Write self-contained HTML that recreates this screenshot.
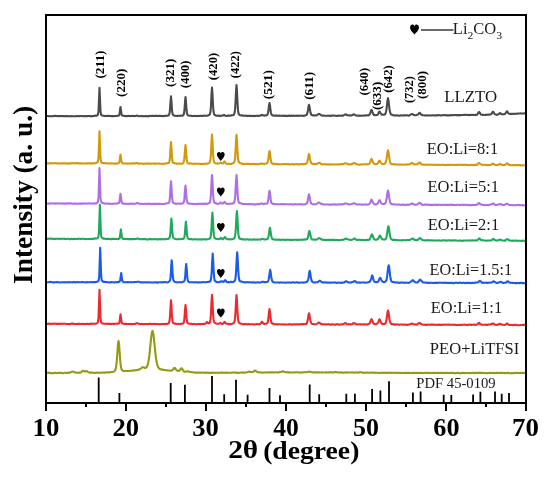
<!DOCTYPE html>
<html><head><meta charset="utf-8"><style>html,body{margin:0;padding:0;background:#fff;}svg{display:block;}
text{font-family:"Liberation Serif","Times New Roman",serif;}</style></head><body>
<svg width="550" height="478" viewBox="0 0 550 478">
<rect width="550" height="478" fill="#fff"/>
<path d="M46.0,116.21 L46.5,116.21 L47.0,116.14 L47.5,116.06 L48.0,116.05 L48.5,116.07 L49.0,116.22 L49.5,116.31 L50.0,116.18 L50.5,116.13 L51.0,116.23 L51.5,116.26 L52.0,116.17 L52.5,116.10 L53.0,116.17 L53.5,116.19 L54.0,116.06 L54.5,115.97 L55.0,115.90 L55.5,115.86 L56.0,115.91 L56.5,116.00 L57.0,116.05 L57.5,116.15 L58.0,116.20 L58.5,116.04 L59.0,115.88 L59.5,115.99 L60.0,116.15 L60.5,116.11 L61.0,116.00 L61.5,116.00 L62.0,116.01 L62.5,116.10 L63.0,116.20 L63.5,116.14 L64.0,116.17 L64.5,116.23 L65.0,116.15 L65.5,116.13 L66.0,116.18 L66.5,116.12 L67.0,116.05 L67.5,116.18 L68.0,116.23 L68.5,116.12 L69.0,116.18 L69.5,116.19 L70.0,116.21 L70.5,116.38 L71.0,116.28 L71.5,116.08 L72.0,116.14 L72.5,116.21 L73.0,116.20 L73.5,116.22 L74.0,116.22 L74.5,116.30 L75.0,116.30 L75.5,116.17 L76.0,116.12 L76.5,116.12 L77.0,116.08 L77.5,116.00 L78.0,116.02 L78.5,116.14 L79.0,116.29 L79.5,116.24 L80.0,116.03 L80.5,116.03 L81.0,116.07 L81.5,115.94 L82.0,115.98 L82.5,116.17 L83.0,116.30 L83.5,116.26 L84.0,116.12 L84.5,116.06 L85.0,116.16 L85.5,116.25 L86.0,116.14 L86.5,116.09 L87.0,116.13 L87.5,116.11 L88.0,116.03 L88.5,115.98 L89.0,116.02 L89.5,116.12 L90.0,116.23 L90.5,116.22 L91.0,116.15 L91.5,116.13 L92.0,116.12 L92.5,116.15 L93.0,116.12 L93.5,116.02 L94.0,115.91 L94.5,115.85 L95.0,115.67 L95.5,115.56 L96.0,115.61 L96.5,115.58 L97.0,115.58 L97.5,115.35 L98.0,114.35 L98.5,110.93 L99.0,99.65 L99.5,87.88 L100.0,99.63 L100.5,111.03 L101.0,114.44 L101.5,115.18 L102.0,115.40 L102.5,115.61 L103.0,115.73 L103.5,115.77 L104.0,115.84 L104.5,115.93 L105.0,116.05 L105.5,116.08 L106.0,116.01 L106.5,115.97 L107.0,115.89 L107.5,115.78 L108.0,115.85 L108.5,115.93 L109.0,115.90 L109.5,115.95 L110.0,115.97 L110.5,116.01 L111.0,116.06 L111.5,116.11 L112.0,116.04 L112.5,115.98 L113.0,116.19 L113.5,116.27 L114.0,116.11 L114.5,116.01 L115.0,115.96 L115.5,115.98 L116.0,116.05 L116.5,116.00 L117.0,115.90 L117.5,115.81 L118.0,115.68 L118.5,115.63 L119.0,115.46 L119.5,114.21 L120.0,110.49 L120.5,107.01 L121.0,110.31 L121.5,114.01 L122.0,115.33 L122.5,115.68 L123.0,115.80 L123.5,115.80 L124.0,115.77 L124.5,115.93 L125.0,116.11 L125.5,115.99 L126.0,115.91 L126.5,116.10 L127.0,116.14 L127.5,115.97 L128.0,115.93 L128.5,115.90 L129.0,115.89 L129.5,116.05 L130.0,116.11 L130.5,116.04 L131.0,116.02 L131.5,116.05 L132.0,116.03 L132.5,115.97 L133.0,115.88 L133.5,115.95 L134.0,116.11 L134.5,116.09 L135.0,116.05 L135.5,116.01 L136.0,115.85 L136.5,115.64 L137.0,115.50 L137.5,115.67 L138.0,115.89 L138.5,116.08 L139.0,116.20 L139.5,116.21 L140.0,116.10 L140.5,115.95 L141.0,115.94 L141.5,116.14 L142.0,116.21 L142.5,116.13 L143.0,116.15 L143.5,116.22 L144.0,116.24 L144.5,116.18 L145.0,116.14 L145.5,116.13 L146.0,116.05 L146.5,116.11 L147.0,116.20 L147.5,116.27 L148.0,116.38 L148.5,116.25 L149.0,115.93 L149.5,115.86 L150.0,116.00 L150.5,115.99 L151.0,116.04 L151.5,116.05 L152.0,115.81 L152.5,115.76 L153.0,115.97 L153.5,116.05 L154.0,116.02 L154.5,115.99 L155.0,115.87 L155.5,115.83 L156.0,115.89 L156.5,115.84 L157.0,115.83 L157.5,115.99 L158.0,116.07 L158.5,116.01 L159.0,115.90 L159.5,115.84 L160.0,115.83 L160.5,115.87 L161.0,115.93 L161.5,115.94 L162.0,116.00 L162.5,116.14 L163.0,116.13 L163.5,115.97 L164.0,115.96 L164.5,115.97 L165.0,115.83 L165.5,115.71 L166.0,115.77 L166.5,115.86 L167.0,115.78 L167.5,115.65 L168.0,115.57 L168.5,115.43 L169.0,114.87 L169.5,113.47 L170.0,109.71 L170.5,101.95 L171.0,96.25 L171.5,102.20 L172.0,110.11 L172.5,113.73 L173.0,114.73 L173.5,115.20 L174.0,115.58 L174.5,115.70 L175.0,115.71 L175.5,115.76 L176.0,115.84 L176.5,115.93 L177.0,115.94 L177.5,115.84 L178.0,115.78 L178.5,115.81 L179.0,115.85 L179.5,115.84 L180.0,115.72 L180.5,115.70 L181.0,115.66 L181.5,115.63 L182.0,115.78 L182.5,115.68 L183.0,115.31 L183.5,114.87 L184.0,113.40 L184.5,109.33 L185.0,102.07 L185.5,97.00 L186.0,102.13 L186.5,109.45 L187.0,113.37 L187.5,114.82 L188.0,115.38 L188.5,115.56 L189.0,115.69 L189.5,115.82 L190.0,115.75 L190.5,115.63 L191.0,115.70 L191.5,115.97 L192.0,116.10 L192.5,116.06 L193.0,116.02 L193.5,115.96 L194.0,115.93 L194.5,115.89 L195.0,115.89 L195.5,116.00 L196.0,116.11 L196.5,116.06 L197.0,115.92 L197.5,115.83 L198.0,115.91 L198.5,116.08 L199.0,116.06 L199.5,115.94 L200.0,115.83 L200.5,115.77 L201.0,115.89 L201.5,115.97 L202.0,115.89 L202.5,115.83 L203.0,115.84 L203.5,115.78 L204.0,115.67 L204.5,115.67 L205.0,115.75 L205.5,115.78 L206.0,115.74 L206.5,115.80 L207.0,115.81 L207.5,115.58 L208.0,115.39 L208.5,115.29 L209.0,115.03 L209.5,114.61 L210.0,113.94 L210.5,111.62 L211.0,105.21 L211.5,94.52 L212.0,87.67 L212.5,94.52 L213.0,104.97 L213.5,111.28 L214.0,113.86 L214.5,114.70 L215.0,115.20 L215.5,115.51 L216.0,115.57 L216.5,115.71 L217.0,115.83 L217.5,115.72 L218.0,115.56 L218.5,115.57 L219.0,115.77 L219.5,115.98 L220.0,115.92 L220.5,115.70 L221.0,115.63 L221.5,115.71 L222.0,115.75 L222.5,115.68 L223.0,115.47 L223.5,115.11 L224.0,114.83 L224.5,115.07 L225.0,115.46 L225.5,115.69 L226.0,115.90 L226.5,116.03 L227.0,115.95 L227.5,115.73 L228.0,115.62 L228.5,115.61 L229.0,115.49 L229.5,115.51 L230.0,115.74 L230.5,115.75 L231.0,115.52 L231.5,115.32 L232.0,115.26 L232.5,115.24 L233.0,115.26 L233.5,115.11 L234.0,114.44 L234.5,113.06 L235.0,109.90 L235.5,102.81 L236.0,91.79 L236.5,85.02 L237.0,91.76 L237.5,102.83 L238.0,110.18 L238.5,113.42 L239.0,114.48 L239.5,114.87 L240.0,115.14 L240.5,115.29 L241.0,115.36 L241.5,115.40 L242.0,115.37 L242.5,115.47 L243.0,115.69 L243.5,115.76 L244.0,115.82 L244.5,115.80 L245.0,115.62 L245.5,115.64 L246.0,115.82 L246.5,115.86 L247.0,115.87 L247.5,115.95 L248.0,115.87 L248.5,115.70 L249.0,115.75 L249.5,115.93 L250.0,115.86 L250.5,115.77 L251.0,115.95 L251.5,116.08 L252.0,116.03 L252.5,115.90 L253.0,115.77 L253.5,115.88 L254.0,116.08 L254.5,116.08 L255.0,116.00 L255.5,115.90 L256.0,115.77 L256.5,115.69 L257.0,115.79 L257.5,115.88 L258.0,115.83 L258.5,115.91 L259.0,115.87 L259.5,115.70 L260.0,115.64 L260.5,115.60 L261.0,115.42 L261.5,115.09 L262.0,114.89 L262.5,115.04 L263.0,115.23 L263.5,115.41 L264.0,115.64 L264.5,115.67 L265.0,115.52 L265.5,115.47 L266.0,115.37 L266.5,115.27 L267.0,115.11 L267.5,114.54 L268.0,113.01 L268.5,109.81 L269.0,105.46 L269.5,102.97 L270.0,105.41 L270.5,109.81 L271.0,112.97 L271.5,114.53 L272.0,115.07 L272.5,115.24 L273.0,115.44 L273.5,115.64 L274.0,115.71 L274.5,115.66 L275.0,115.60 L275.5,115.62 L276.0,115.71 L276.5,115.63 L277.0,115.57 L277.5,115.78 L278.0,115.87 L278.5,115.68 L279.0,115.62 L279.5,115.66 L280.0,115.72 L280.5,115.80 L281.0,115.76 L281.5,115.78 L282.0,115.85 L282.5,115.84 L283.0,115.83 L283.5,115.73 L284.0,115.60 L284.5,115.72 L285.0,115.96 L285.5,115.95 L286.0,115.88 L286.5,115.89 L287.0,115.89 L287.5,115.99 L288.0,116.02 L288.5,115.78 L289.0,115.60 L289.5,115.62 L290.0,115.72 L290.5,115.92 L291.0,115.94 L291.5,115.74 L292.0,115.66 L292.5,115.83 L293.0,115.84 L293.5,115.67 L294.0,115.71 L294.5,115.83 L295.0,115.85 L295.5,115.78 L296.0,115.69 L296.5,115.63 L297.0,115.74 L297.5,115.98 L298.0,115.97 L298.5,115.79 L299.0,115.62 L299.5,115.56 L300.0,115.67 L300.5,115.78 L301.0,115.78 L301.5,115.71 L302.0,115.64 L302.5,115.68 L303.0,115.78 L303.5,115.92 L304.0,115.91 L304.5,115.65 L305.0,115.45 L305.5,115.37 L306.0,115.19 L306.5,114.88 L307.0,114.19 L307.5,112.66 L308.0,109.99 L308.5,106.59 L309.0,104.75 L309.5,106.51 L310.0,109.84 L310.5,112.57 L311.0,114.16 L311.5,114.89 L312.0,115.24 L312.5,115.33 L313.0,115.33 L313.5,115.39 L314.0,115.39 L314.5,115.43 L315.0,115.41 L315.5,115.33 L316.0,115.41 L316.5,115.39 L317.0,115.13 L317.5,114.78 L318.0,114.36 L318.5,113.98 L319.0,113.86 L319.5,114.06 L320.0,114.40 L320.5,114.76 L321.0,115.16 L321.5,115.44 L322.0,115.52 L322.5,115.60 L323.0,115.62 L323.5,115.57 L324.0,115.68 L324.5,115.78 L325.0,115.79 L325.5,115.75 L326.0,115.68 L326.5,115.71 L327.0,115.82 L327.5,115.83 L328.0,115.71 L328.5,115.63 L329.0,115.79 L329.5,115.95 L330.0,115.93 L330.5,115.74 L331.0,115.65 L331.5,115.75 L332.0,115.65 L332.5,115.49 L333.0,115.57 L333.5,115.54 L334.0,115.49 L334.5,115.67 L335.0,115.81 L335.5,115.77 L336.0,115.83 L336.5,116.00 L337.0,115.97 L337.5,115.78 L338.0,115.62 L338.5,115.53 L339.0,115.59 L339.5,115.73 L340.0,115.76 L340.5,115.76 L341.0,115.74 L341.5,115.62 L342.0,115.61 L342.5,115.67 L343.0,115.63 L343.5,115.49 L344.0,115.19 L344.5,114.85 L345.0,114.57 L345.5,114.33 L346.0,114.40 L346.5,114.80 L347.0,115.12 L347.5,115.23 L348.0,115.25 L348.5,115.36 L349.0,115.43 L349.5,115.33 L350.0,115.27 L350.5,115.44 L351.0,115.60 L351.5,115.47 L352.0,115.23 L352.5,115.06 L353.0,114.73 L353.5,114.31 L354.0,114.33 L354.5,114.64 L355.0,114.98 L355.5,115.32 L356.0,115.49 L356.5,115.52 L357.0,115.59 L357.5,115.61 L358.0,115.55 L358.5,115.60 L359.0,115.78 L359.5,115.83 L360.0,115.68 L360.5,115.59 L361.0,115.68 L361.5,115.74 L362.0,115.73 L362.5,115.68 L363.0,115.54 L363.5,115.49 L364.0,115.57 L364.5,115.67 L365.0,115.60 L365.5,115.37 L366.0,115.34 L366.5,115.42 L367.0,115.31 L367.5,115.25 L368.0,115.38 L368.5,115.34 L369.0,115.03 L369.5,114.52 L370.0,113.65 L370.5,112.29 L371.0,110.75 L371.5,109.87 L372.0,110.55 L372.5,112.11 L373.0,113.50 L373.5,114.46 L374.0,114.89 L374.5,115.00 L375.0,115.11 L375.5,115.21 L376.0,115.22 L376.5,115.07 L377.0,114.94 L377.5,114.83 L378.0,114.36 L378.5,113.31 L379.0,112.04 L379.5,111.50 L380.0,112.06 L380.5,112.94 L381.0,113.77 L381.5,114.48 L382.0,114.82 L382.5,114.77 L383.0,114.64 L383.5,114.68 L384.0,114.73 L384.5,114.54 L385.0,114.19 L385.5,113.52 L386.0,111.96 L386.5,109.09 L387.0,104.90 L387.5,100.38 L388.0,98.19 L388.5,100.40 L389.0,104.99 L389.5,109.11 L390.0,111.83 L390.5,113.42 L391.0,114.28 L391.5,114.64 L392.0,114.68 L392.5,114.79 L393.0,115.14 L393.5,115.46 L394.0,115.45 L394.5,115.34 L395.0,115.48 L395.5,115.57 L396.0,115.42 L396.5,115.38 L397.0,115.52 L397.5,115.55 L398.0,115.48 L398.5,115.50 L399.0,115.69 L399.5,115.74 L400.0,115.62 L400.5,115.44 L401.0,115.30 L401.5,115.40 L402.0,115.48 L402.5,115.52 L403.0,115.53 L403.5,115.36 L404.0,115.27 L404.5,115.36 L405.0,115.37 L405.5,115.34 L406.0,115.34 L406.5,115.25 L407.0,115.23 L407.5,115.44 L408.0,115.55 L408.5,115.61 L409.0,115.61 L409.5,115.29 L410.0,114.91 L410.5,114.66 L411.0,114.40 L411.5,114.17 L412.0,114.01 L412.5,114.09 L413.0,114.43 L413.5,114.75 L414.0,115.04 L414.5,115.20 L415.0,115.22 L415.5,115.22 L416.0,115.15 L416.5,115.00 L417.0,114.83 L417.5,114.76 L418.0,114.57 L418.5,113.99 L419.0,113.23 L419.5,112.75 L420.0,112.99 L420.5,113.74 L421.0,114.35 L421.5,114.74 L422.0,115.02 L422.5,115.17 L423.0,115.23 L423.5,115.23 L424.0,115.20 L424.5,115.38 L425.0,115.58 L425.5,115.48 L426.0,115.38 L426.5,115.47 L427.0,115.44 L427.5,115.31 L428.0,115.37 L428.5,115.50 L429.0,115.48 L429.5,115.51 L430.0,115.53 L430.5,115.42 L431.0,115.35 L431.5,115.43 L432.0,115.43 L432.5,115.24 L433.0,115.20 L433.5,115.34 L434.0,115.47 L434.5,115.57 L435.0,115.49 L435.5,115.34 L436.0,115.38 L436.5,115.37 L437.0,115.34 L437.5,115.36 L438.0,115.21 L438.5,115.11 L439.0,115.16 L439.5,115.18 L440.0,115.26 L440.5,115.40 L441.0,115.51 L441.5,115.54 L442.0,115.34 L442.5,115.14 L443.0,115.14 L443.5,115.14 L444.0,115.18 L444.5,115.28 L445.0,115.17 L445.5,115.11 L446.0,115.27 L446.5,115.34 L447.0,115.33 L447.5,115.35 L448.0,115.35 L448.5,115.38 L449.0,115.42 L449.5,115.39 L450.0,115.34 L450.5,115.24 L451.0,115.10 L451.5,115.13 L452.0,115.20 L452.5,115.16 L453.0,115.17 L453.5,115.31 L454.0,115.24 L454.5,114.99 L455.0,114.93 L455.5,115.06 L456.0,115.11 L456.5,115.09 L457.0,115.10 L457.5,115.12 L458.0,115.13 L458.5,115.09 L459.0,115.14 L459.5,115.36 L460.0,115.39 L460.5,115.12 L461.0,114.96 L461.5,115.03 L462.0,115.07 L462.5,114.98 L463.0,114.97 L463.5,114.99 L464.0,114.91 L464.5,114.88 L465.0,114.84 L465.5,114.73 L466.0,114.76 L466.5,114.92 L467.0,115.01 L467.5,114.91 L468.0,114.79 L468.5,114.90 L469.0,115.08 L469.5,115.08 L470.0,114.95 L470.5,114.90 L471.0,114.95 L471.5,114.86 L472.0,114.74 L472.5,114.86 L473.0,115.03 L473.5,115.06 L474.0,114.99 L474.5,114.93 L475.0,114.88 L475.5,114.79 L476.0,114.85 L476.5,114.98 L477.0,114.70 L477.5,114.11 L478.0,113.36 L478.5,112.50 L479.0,111.98 L479.5,112.31 L480.0,113.13 L480.5,113.96 L481.0,114.46 L481.5,114.70 L482.0,114.84 L482.5,114.85 L483.0,114.77 L483.5,114.71 L484.0,114.88 L484.5,115.04 L485.0,114.94 L485.5,114.80 L486.0,114.85 L486.5,114.86 L487.0,114.70 L487.5,114.66 L488.0,114.76 L488.5,114.74 L489.0,114.65 L489.5,114.61 L490.0,114.56 L490.5,114.48 L491.0,114.25 L491.5,113.80 L492.0,113.16 L492.5,112.24 L493.0,111.60 L493.5,112.15 L494.0,113.15 L494.5,113.81 L495.0,114.16 L495.5,114.36 L496.0,114.64 L496.5,114.88 L497.0,114.79 L497.5,114.57 L498.0,114.44 L498.5,114.23 L499.0,113.90 L499.5,113.41 L500.0,113.04 L500.5,113.32 L501.0,113.86 L501.5,114.22 L502.0,114.29 L502.5,114.23 L503.0,114.30 L503.5,114.33 L504.0,114.26 L504.5,114.13 L505.0,113.78 L505.5,113.30 L506.0,112.77 L506.5,111.88 L507.0,111.25 L507.5,111.78 L508.0,112.74 L508.5,113.33 L509.0,113.62 L509.5,113.87 L510.0,113.95 L510.5,113.90 L511.0,113.93 L511.5,113.84 L512.0,113.81 L512.5,113.94 L513.0,113.84 L513.5,113.67 L514.0,113.75 L514.5,113.93 L515.0,113.91 L515.5,113.78 L516.0,113.77 L516.5,113.75 L517.0,113.65 L517.5,113.64 L518.0,113.60 L518.5,113.50 L519.0,113.49 L519.5,113.52 L520.0,113.49 L520.5,113.40 L521.0,113.44 L521.5,113.53 L522.0,113.53 L522.5,113.54 L523.0,113.55 L523.5,113.57 L524.0,113.52 L524.5,113.35 L525.0,113.27 L525.5,113.32 L526.0,113.37" fill="none" stroke="#4a4a4a" stroke-width="2.1" stroke-linejoin="round"/>
<path d="M46.0,163.37 L46.5,163.13 L47.0,163.13 L47.5,163.36 L48.0,163.46 L48.5,163.42 L49.0,163.36 L49.5,163.39 L50.0,163.40 L50.5,163.39 L51.0,163.30 L51.5,163.17 L52.0,163.21 L52.5,163.30 L53.0,163.36 L53.5,163.30 L54.0,163.24 L54.5,163.27 L55.0,163.21 L55.5,163.11 L56.0,163.12 L56.5,163.28 L57.0,163.44 L57.5,163.47 L58.0,163.44 L58.5,163.45 L59.0,163.40 L59.5,163.37 L60.0,163.46 L60.5,163.47 L61.0,163.36 L61.5,163.30 L62.0,163.33 L62.5,163.31 L63.0,163.33 L63.5,163.40 L64.0,163.40 L64.5,163.35 L65.0,163.33 L65.5,163.38 L66.0,163.41 L66.5,163.46 L67.0,163.58 L67.5,163.61 L68.0,163.63 L68.5,163.54 L69.0,163.34 L69.5,163.33 L70.0,163.42 L70.5,163.42 L71.0,163.38 L71.5,163.27 L72.0,163.18 L72.5,163.16 L73.0,163.17 L73.5,163.28 L74.0,163.31 L74.5,163.28 L75.0,163.36 L75.5,163.35 L76.0,163.18 L76.5,163.10 L77.0,163.10 L77.5,163.09 L78.0,163.29 L78.5,163.47 L79.0,163.42 L79.5,163.36 L80.0,163.32 L80.5,163.36 L81.0,163.40 L81.5,163.43 L82.0,163.57 L82.5,163.65 L83.0,163.54 L83.5,163.40 L84.0,163.36 L84.5,163.42 L85.0,163.48 L85.5,163.50 L86.0,163.56 L86.5,163.50 L87.0,163.30 L87.5,163.34 L88.0,163.48 L88.5,163.39 L89.0,163.31 L89.5,163.28 L90.0,163.26 L90.5,163.48 L91.0,163.73 L91.5,163.59 L92.0,163.29 L92.5,163.21 L93.0,163.33 L93.5,163.39 L94.0,163.26 L94.5,163.23 L95.0,163.35 L95.5,163.31 L96.0,163.06 L96.5,162.76 L97.0,162.51 L97.5,162.11 L98.0,161.24 L98.5,157.61 L99.0,144.67 L99.5,131.32 L100.0,144.96 L100.5,157.84 L101.0,161.47 L101.5,162.48 L102.0,162.91 L102.5,162.93 L103.0,162.99 L103.5,163.08 L104.0,163.19 L104.5,163.27 L105.0,163.13 L105.5,163.14 L106.0,163.31 L106.5,163.40 L107.0,163.46 L107.5,163.48 L108.0,163.51 L108.5,163.47 L109.0,163.32 L109.5,163.34 L110.0,163.42 L110.5,163.48 L111.0,163.48 L111.5,163.38 L112.0,163.43 L112.5,163.57 L113.0,163.55 L113.5,163.56 L114.0,163.80 L114.5,163.77 L115.0,163.48 L115.5,163.57 L116.0,163.79 L116.5,163.68 L117.0,163.49 L117.5,163.36 L118.0,163.25 L118.5,163.12 L119.0,162.85 L119.5,161.63 L120.0,157.91 L120.5,154.45 L121.0,157.79 L121.5,161.50 L122.0,162.79 L122.5,163.21 L123.0,163.47 L123.5,163.54 L124.0,163.56 L124.5,163.56 L125.0,163.54 L125.5,163.51 L126.0,163.55 L126.5,163.56 L127.0,163.56 L127.5,163.66 L128.0,163.61 L128.5,163.48 L129.0,163.46 L129.5,163.50 L130.0,163.53 L130.5,163.59 L131.0,163.63 L131.5,163.45 L132.0,163.28 L132.5,163.29 L133.0,163.34 L133.5,163.53 L134.0,163.71 L134.5,163.58 L135.0,163.31 L135.5,163.27 L136.0,163.30 L136.5,163.06 L137.0,162.91 L137.5,163.18 L138.0,163.52 L138.5,163.61 L139.0,163.57 L139.5,163.63 L140.0,163.64 L140.5,163.53 L141.0,163.49 L141.5,163.53 L142.0,163.54 L142.5,163.59 L143.0,163.78 L143.5,163.86 L144.0,163.68 L144.5,163.59 L145.0,163.66 L145.5,163.76 L146.0,163.77 L146.5,163.63 L147.0,163.48 L147.5,163.41 L148.0,163.52 L148.5,163.69 L149.0,163.66 L149.5,163.56 L150.0,163.59 L150.5,163.70 L151.0,163.71 L151.5,163.64 L152.0,163.54 L152.5,163.43 L153.0,163.56 L153.5,163.69 L154.0,163.53 L154.5,163.56 L155.0,163.68 L155.5,163.63 L156.0,163.59 L156.5,163.65 L157.0,163.69 L157.5,163.59 L158.0,163.49 L158.5,163.54 L159.0,163.57 L159.5,163.60 L160.0,163.72 L160.5,163.81 L161.0,163.78 L161.5,163.72 L162.0,163.81 L162.5,163.90 L163.0,163.91 L163.5,163.85 L164.0,163.69 L164.5,163.64 L165.0,163.61 L165.5,163.49 L166.0,163.47 L166.5,163.43 L167.0,163.28 L167.5,163.09 L168.0,163.02 L168.5,162.97 L169.0,162.66 L169.5,161.33 L170.0,157.02 L170.5,148.33 L171.0,141.98 L171.5,148.38 L172.0,157.02 L172.5,161.33 L173.0,162.73 L173.5,162.98 L174.0,163.00 L174.5,163.10 L175.0,163.17 L175.5,163.36 L176.0,163.62 L176.5,163.58 L177.0,163.48 L177.5,163.66 L178.0,163.76 L178.5,163.61 L179.0,163.51 L179.5,163.55 L180.0,163.63 L180.5,163.71 L181.0,163.75 L181.5,163.72 L182.0,163.65 L182.5,163.50 L183.0,163.11 L183.5,162.48 L184.0,161.23 L184.5,157.48 L185.0,150.23 L185.5,145.16 L186.0,150.18 L186.5,157.45 L187.0,161.46 L187.5,162.79 L188.0,163.19 L188.5,163.46 L189.0,163.61 L189.5,163.49 L190.0,163.32 L190.5,163.41 L191.0,163.54 L191.5,163.58 L192.0,163.75 L192.5,163.84 L193.0,163.70 L193.5,163.72 L194.0,163.90 L194.5,163.77 L195.0,163.64 L195.5,163.77 L196.0,163.81 L196.5,163.79 L197.0,163.82 L197.5,163.75 L198.0,163.69 L198.5,163.82 L199.0,163.86 L199.5,163.80 L200.0,163.80 L200.5,163.96 L201.0,164.05 L201.5,163.94 L202.0,163.89 L202.5,163.84 L203.0,163.79 L203.5,163.88 L204.0,163.95 L204.5,163.93 L205.0,163.78 L205.5,163.61 L206.0,163.59 L206.5,163.66 L207.0,163.71 L207.5,163.67 L208.0,163.53 L208.5,163.42 L209.0,163.19 L209.5,162.59 L210.0,161.48 L210.5,158.88 L211.0,152.53 L211.5,141.77 L212.0,134.67 L212.5,141.83 L213.0,152.88 L213.5,159.42 L214.0,161.88 L214.5,162.61 L215.0,162.95 L215.5,163.22 L216.0,163.36 L216.5,163.42 L217.0,163.59 L217.5,163.66 L218.0,163.53 L218.5,163.49 L219.0,163.42 L219.5,163.24 L220.0,162.91 L220.5,162.65 L221.0,162.82 L221.5,163.17 L222.0,163.49 L222.5,163.56 L223.0,163.40 L223.5,162.78 L224.0,161.80 L224.5,161.44 L225.0,162.18 L225.5,163.08 L226.0,163.54 L226.5,163.61 L227.0,163.67 L227.5,163.92 L228.0,164.03 L228.5,163.85 L229.0,163.65 L229.5,163.61 L230.0,163.87 L230.5,164.05 L231.0,163.93 L231.5,163.78 L232.0,163.57 L232.5,163.38 L233.0,163.24 L233.5,162.88 L234.0,162.42 L234.5,161.48 L235.0,158.60 L235.5,151.82 L236.0,141.37 L236.5,134.89 L237.0,141.18 L237.5,151.63 L238.0,158.35 L238.5,161.20 L239.0,162.29 L239.5,162.77 L240.0,162.97 L240.5,163.11 L241.0,163.33 L241.5,163.61 L242.0,163.88 L242.5,163.93 L243.0,163.73 L243.5,163.75 L244.0,163.93 L244.5,163.91 L245.0,163.96 L245.5,164.08 L246.0,163.95 L246.5,163.76 L247.0,163.80 L247.5,163.97 L248.0,163.97 L248.5,163.82 L249.0,163.86 L249.5,164.05 L250.0,164.08 L250.5,164.02 L251.0,164.09 L251.5,164.03 L252.0,163.87 L252.5,163.94 L253.0,164.04 L253.5,163.90 L254.0,163.78 L254.5,163.95 L255.0,164.20 L255.5,164.14 L256.0,164.04 L256.5,164.15 L257.0,164.12 L257.5,164.15 L258.0,164.27 L258.5,164.21 L259.0,164.03 L259.5,163.92 L260.0,163.92 L260.5,163.68 L261.0,163.49 L261.5,163.58 L262.0,163.55 L262.5,163.54 L263.0,163.68 L263.5,163.97 L264.0,164.18 L264.5,164.12 L265.0,163.86 L265.5,163.66 L266.0,163.51 L266.5,163.24 L267.0,163.01 L267.5,162.53 L268.0,160.94 L268.5,157.72 L269.0,153.39 L269.5,151.02 L270.0,153.55 L270.5,157.94 L271.0,161.15 L271.5,162.65 L272.0,163.30 L272.5,163.62 L273.0,163.66 L273.5,163.69 L274.0,163.77 L274.5,164.00 L275.0,164.14 L275.5,164.06 L276.0,164.00 L276.5,163.94 L277.0,163.87 L277.5,164.00 L278.0,164.33 L278.5,164.48 L279.0,164.28 L279.5,164.14 L280.0,164.18 L280.5,164.21 L281.0,164.25 L281.5,164.26 L282.0,164.25 L282.5,164.23 L283.0,164.14 L283.5,164.03 L284.0,163.97 L284.5,163.99 L285.0,164.02 L285.5,164.07 L286.0,164.11 L286.5,164.19 L287.0,164.19 L287.5,164.05 L288.0,164.01 L288.5,164.12 L289.0,164.34 L289.5,164.48 L290.0,164.39 L290.5,164.31 L291.0,164.29 L291.5,164.23 L292.0,164.28 L292.5,164.10 L293.0,164.05 L293.5,164.45 L294.0,164.49 L294.5,164.22 L295.0,164.19 L295.5,164.23 L296.0,164.16 L296.5,164.05 L297.0,164.11 L297.5,164.26 L298.0,164.34 L298.5,164.37 L299.0,164.42 L299.5,164.44 L300.0,164.28 L300.5,164.11 L301.0,163.96 L301.5,164.04 L302.0,164.21 L302.5,164.17 L303.0,164.16 L303.5,164.10 L304.0,163.97 L304.5,163.94 L305.0,163.90 L305.5,163.87 L306.0,163.85 L306.5,163.56 L307.0,162.74 L307.5,161.23 L308.0,158.69 L308.5,155.50 L309.0,153.95 L309.5,155.82 L310.0,158.94 L310.5,161.37 L311.0,162.75 L311.5,163.34 L312.0,163.58 L312.5,163.73 L313.0,163.87 L313.5,164.02 L314.0,164.11 L314.5,164.09 L315.0,164.00 L315.5,164.03 L316.0,164.16 L316.5,164.14 L317.0,163.95 L317.5,163.64 L318.0,163.20 L318.5,162.75 L319.0,162.72 L319.5,162.93 L320.0,163.11 L320.5,163.58 L321.0,164.02 L321.5,164.16 L322.0,164.29 L322.5,164.34 L323.0,164.27 L323.5,164.24 L324.0,164.19 L324.5,164.16 L325.0,164.21 L325.5,164.29 L326.0,164.37 L326.5,164.33 L327.0,164.33 L327.5,164.55 L328.0,164.63 L328.5,164.49 L329.0,164.37 L329.5,164.38 L330.0,164.45 L330.5,164.37 L331.0,164.27 L331.5,164.53 L332.0,164.64 L332.5,164.40 L333.0,164.42 L333.5,164.48 L334.0,164.48 L334.5,164.48 L335.0,164.36 L335.5,164.43 L336.0,164.56 L336.5,164.44 L337.0,164.35 L337.5,164.37 L338.0,164.44 L338.5,164.49 L339.0,164.43 L339.5,164.37 L340.0,164.34 L340.5,164.38 L341.0,164.26 L341.5,164.07 L342.0,164.13 L342.5,164.13 L343.0,164.14 L343.5,164.07 L344.0,163.65 L344.5,163.35 L345.0,163.27 L345.5,163.22 L346.0,163.35 L346.5,163.51 L347.0,163.66 L347.5,164.00 L348.0,164.33 L348.5,164.42 L349.0,164.36 L349.5,164.33 L350.0,164.29 L350.5,164.35 L351.0,164.44 L351.5,164.21 L352.0,163.85 L352.5,163.68 L353.0,163.55 L353.5,163.29 L354.0,163.05 L354.5,163.11 L355.0,163.35 L355.5,163.53 L356.0,163.84 L356.5,164.19 L357.0,164.32 L357.5,164.45 L358.0,164.59 L358.5,164.56 L359.0,164.58 L359.5,164.70 L360.0,164.61 L360.5,164.49 L361.0,164.54 L361.5,164.49 L362.0,164.39 L362.5,164.41 L363.0,164.33 L363.5,164.22 L364.0,164.31 L364.5,164.38 L365.0,164.28 L365.5,164.20 L366.0,164.27 L366.5,164.36 L367.0,164.30 L367.5,164.23 L368.0,164.19 L368.5,164.03 L369.0,163.89 L369.5,163.51 L370.0,162.49 L370.5,161.11 L371.0,159.71 L371.5,158.90 L372.0,159.59 L372.5,161.19 L373.0,162.49 L373.5,163.16 L374.0,163.59 L374.5,163.85 L375.0,163.93 L375.5,163.98 L376.0,164.05 L376.5,164.05 L377.0,163.89 L377.5,163.60 L378.0,162.98 L378.5,161.95 L379.0,161.00 L379.5,160.62 L380.0,161.02 L380.5,161.92 L381.0,162.84 L381.5,163.47 L382.0,163.91 L382.5,164.07 L383.0,163.99 L383.5,164.00 L384.0,164.01 L384.5,163.80 L385.0,163.43 L385.5,162.73 L386.0,161.42 L386.5,159.27 L387.0,156.00 L387.5,152.20 L388.0,150.29 L388.5,152.07 L389.0,155.84 L389.5,159.36 L390.0,161.80 L390.5,163.18 L391.0,163.79 L391.5,164.08 L392.0,164.22 L392.5,164.20 L393.0,164.15 L393.5,164.25 L394.0,164.36 L394.5,164.29 L395.0,164.27 L395.5,164.45 L396.0,164.49 L396.5,164.45 L397.0,164.48 L397.5,164.54 L398.0,164.53 L398.5,164.42 L399.0,164.44 L399.5,164.59 L400.0,164.62 L400.5,164.55 L401.0,164.50 L401.5,164.50 L402.0,164.64 L402.5,164.70 L403.0,164.66 L403.5,164.78 L404.0,164.78 L404.5,164.68 L405.0,164.62 L405.5,164.44 L406.0,164.31 L406.5,164.39 L407.0,164.50 L407.5,164.54 L408.0,164.54 L408.5,164.45 L409.0,164.33 L409.5,164.29 L410.0,164.08 L410.5,163.79 L411.0,163.46 L411.5,163.03 L412.0,162.83 L412.5,163.06 L413.0,163.56 L413.5,164.03 L414.0,164.26 L414.5,164.28 L415.0,164.30 L415.5,164.40 L416.0,164.39 L416.5,164.31 L417.0,164.29 L417.5,164.01 L418.0,163.53 L418.5,163.13 L419.0,162.71 L419.5,162.48 L420.0,162.71 L420.5,163.24 L421.0,163.85 L421.5,164.27 L422.0,164.49 L422.5,164.67 L423.0,164.70 L423.5,164.62 L424.0,164.57 L424.5,164.66 L425.0,164.71 L425.5,164.66 L426.0,164.75 L426.5,164.83 L427.0,164.69 L427.5,164.54 L428.0,164.68 L428.5,164.79 L429.0,164.74 L429.5,164.63 L430.0,164.58 L430.5,164.70 L431.0,164.81 L431.5,164.76 L432.0,164.69 L432.5,164.77 L433.0,164.86 L433.5,164.83 L434.0,164.73 L434.5,164.82 L435.0,164.98 L435.5,164.82 L436.0,164.69 L436.5,164.71 L437.0,164.77 L437.5,164.99 L438.0,165.04 L438.5,164.76 L439.0,164.68 L439.5,164.93 L440.0,165.06 L440.5,165.05 L441.0,164.97 L441.5,164.81 L442.0,164.72 L442.5,164.63 L443.0,164.69 L443.5,164.85 L444.0,164.96 L444.5,165.07 L445.0,164.96 L445.5,164.85 L446.0,165.01 L446.5,165.13 L447.0,164.96 L447.5,164.80 L448.0,164.93 L448.5,165.02 L449.0,164.86 L449.5,164.83 L450.0,164.96 L450.5,164.90 L451.0,164.76 L451.5,164.76 L452.0,164.81 L452.5,164.90 L453.0,164.99 L453.5,165.06 L454.0,164.96 L454.5,164.80 L455.0,164.92 L455.5,165.05 L456.0,165.06 L456.5,165.02 L457.0,164.86 L457.5,164.84 L458.0,164.91 L458.5,164.75 L459.0,164.70 L459.5,164.88 L460.0,164.89 L460.5,164.79 L461.0,164.70 L461.5,164.66 L462.0,164.73 L462.5,164.86 L463.0,164.84 L463.5,164.76 L464.0,164.84 L464.5,164.80 L465.0,164.81 L465.5,164.96 L466.0,164.89 L466.5,164.88 L467.0,165.02 L467.5,164.97 L468.0,164.94 L468.5,165.06 L469.0,165.09 L469.5,165.03 L470.0,165.00 L470.5,164.99 L471.0,164.99 L471.5,164.91 L472.0,164.97 L472.5,165.14 L473.0,165.08 L473.5,165.08 L474.0,165.19 L474.5,165.03 L475.0,164.88 L475.5,164.86 L476.0,164.81 L476.5,164.86 L477.0,164.71 L477.5,164.19 L478.0,163.66 L478.5,163.23 L479.0,162.96 L479.5,163.17 L480.0,163.65 L480.5,164.03 L481.0,164.40 L481.5,164.68 L482.0,164.82 L482.5,164.86 L483.0,164.85 L483.5,164.93 L484.0,164.94 L484.5,164.82 L485.0,164.74 L485.5,164.80 L486.0,164.91 L486.5,164.91 L487.0,165.00 L487.5,165.15 L488.0,165.22 L488.5,165.17 L489.0,164.96 L489.5,164.87 L490.0,164.98 L490.5,164.98 L491.0,164.82 L491.5,164.54 L492.0,164.20 L492.5,163.82 L493.0,163.58 L493.5,163.74 L494.0,164.11 L494.5,164.47 L495.0,164.77 L495.5,164.92 L496.0,164.99 L496.5,165.08 L497.0,165.06 L497.5,164.98 L498.0,164.84 L498.5,164.72 L499.0,164.60 L499.5,164.17 L500.0,163.86 L500.5,164.01 L501.0,164.46 L501.5,164.88 L502.0,165.01 L502.5,164.97 L503.0,164.91 L503.5,164.98 L504.0,165.12 L504.5,165.06 L505.0,164.78 L505.5,164.51 L506.0,164.10 L506.5,163.60 L507.0,163.43 L507.5,163.55 L508.0,163.88 L508.5,164.46 L509.0,164.83 L509.5,164.83 L510.0,164.91 L510.5,165.14 L511.0,165.22 L511.5,165.27 L512.0,165.26 L512.5,165.16 L513.0,165.15 L513.5,165.13 L514.0,165.10 L514.5,165.11 L515.0,165.18 L515.5,165.26 L516.0,165.20 L516.5,165.12 L517.0,165.13 L517.5,165.12 L518.0,165.05 L518.5,165.05 L519.0,165.10 L519.5,165.09 L520.0,165.09 L520.5,165.20 L521.0,165.41 L521.5,165.44 L522.0,165.29 L522.5,165.31 L523.0,165.42 L523.5,165.32 L524.0,165.21 L524.5,165.23 L525.0,165.31 L525.5,165.35 L526.0,165.26" fill="none" stroke="#d3980c" stroke-width="2.1" stroke-linejoin="round"/>
<path d="M46.0,203.67 L46.5,203.55 L47.0,203.47 L47.5,203.53 L48.0,203.62 L48.5,203.56 L49.0,203.53 L49.5,203.67 L50.0,203.63 L50.5,203.44 L51.0,203.35 L51.5,203.36 L52.0,203.45 L52.5,203.50 L53.0,203.44 L53.5,203.41 L54.0,203.41 L54.5,203.45 L55.0,203.62 L55.5,203.61 L56.0,203.40 L56.5,203.40 L57.0,203.51 L57.5,203.52 L58.0,203.46 L58.5,203.42 L59.0,203.46 L59.5,203.57 L60.0,203.58 L60.5,203.55 L61.0,203.56 L61.5,203.46 L62.0,203.41 L62.5,203.55 L63.0,203.61 L63.5,203.61 L64.0,203.71 L64.5,203.68 L65.0,203.47 L65.5,203.50 L66.0,203.76 L66.5,203.75 L67.0,203.50 L67.5,203.37 L68.0,203.42 L68.5,203.40 L69.0,203.38 L69.5,203.43 L70.0,203.38 L70.5,203.43 L71.0,203.58 L71.5,203.55 L72.0,203.57 L72.5,203.69 L73.0,203.68 L73.5,203.60 L74.0,203.53 L74.5,203.60 L75.0,203.76 L75.5,203.69 L76.0,203.51 L76.5,203.57 L77.0,203.70 L77.5,203.78 L78.0,203.88 L78.5,203.81 L79.0,203.61 L79.5,203.50 L80.0,203.48 L80.5,203.57 L81.0,203.77 L81.5,203.90 L82.0,203.65 L82.5,203.36 L83.0,203.43 L83.5,203.52 L84.0,203.44 L84.5,203.43 L85.0,203.54 L85.5,203.62 L86.0,203.56 L86.5,203.55 L87.0,203.61 L87.5,203.56 L88.0,203.45 L88.5,203.39 L89.0,203.48 L89.5,203.54 L90.0,203.45 L90.5,203.53 L91.0,203.63 L91.5,203.58 L92.0,203.51 L92.5,203.52 L93.0,203.67 L93.5,203.71 L94.0,203.48 L94.5,203.23 L95.0,203.26 L95.5,203.48 L96.0,203.49 L96.5,203.29 L97.0,202.98 L97.5,202.44 L98.0,201.39 L98.5,197.29 L99.0,182.95 L99.5,168.09 L100.0,183.07 L100.5,197.41 L101.0,201.33 L101.5,202.28 L102.0,202.82 L102.5,202.95 L103.0,203.03 L103.5,203.34 L104.0,203.47 L104.5,203.55 L105.0,203.73 L105.5,203.64 L106.0,203.51 L106.5,203.51 L107.0,203.47 L107.5,203.51 L108.0,203.60 L108.5,203.58 L109.0,203.66 L109.5,203.85 L110.0,203.88 L110.5,203.82 L111.0,203.79 L111.5,203.82 L112.0,203.85 L112.5,203.84 L113.0,203.81 L113.5,203.65 L114.0,203.52 L114.5,203.49 L115.0,203.58 L115.5,203.76 L116.0,203.78 L116.5,203.62 L117.0,203.54 L117.5,203.47 L118.0,203.31 L118.5,203.17 L119.0,202.83 L119.5,201.38 L120.0,197.40 L120.5,193.72 L121.0,197.37 L121.5,201.35 L122.0,202.89 L122.5,203.40 L123.0,203.53 L123.5,203.69 L124.0,203.74 L124.5,203.59 L125.0,203.59 L125.5,203.83 L126.0,203.89 L126.5,203.69 L127.0,203.70 L127.5,203.84 L128.0,203.93 L128.5,203.94 L129.0,203.82 L129.5,203.71 L130.0,203.76 L130.5,203.87 L131.0,203.67 L131.5,203.48 L132.0,203.62 L132.5,203.83 L133.0,203.93 L133.5,203.81 L134.0,203.74 L134.5,203.83 L135.0,203.81 L135.5,203.62 L136.0,203.43 L136.5,203.19 L137.0,203.00 L137.5,203.09 L138.0,203.26 L138.5,203.47 L139.0,203.64 L139.5,203.69 L140.0,203.85 L140.5,203.93 L141.0,203.78 L141.5,203.70 L142.0,203.76 L142.5,203.88 L143.0,203.93 L143.5,203.93 L144.0,203.90 L144.5,203.82 L145.0,203.73 L145.5,203.71 L146.0,203.83 L146.5,203.86 L147.0,203.85 L147.5,203.97 L148.0,203.82 L148.5,203.58 L149.0,203.62 L149.5,203.74 L150.0,204.00 L150.5,204.13 L151.0,203.92 L151.5,203.81 L152.0,203.84 L152.5,203.90 L153.0,204.00 L153.5,203.96 L154.0,203.89 L154.5,203.91 L155.0,203.85 L155.5,203.89 L156.0,204.02 L156.5,203.93 L157.0,203.75 L157.5,203.70 L158.0,203.76 L158.5,203.88 L159.0,203.89 L159.5,203.79 L160.0,203.85 L160.5,203.95 L161.0,203.95 L161.5,203.99 L162.0,204.03 L162.5,203.99 L163.0,203.95 L163.5,203.99 L164.0,203.90 L164.5,203.73 L165.0,203.77 L165.5,203.75 L166.0,203.59 L166.5,203.42 L167.0,203.30 L167.5,203.30 L168.0,203.26 L168.5,203.03 L169.0,202.56 L169.5,201.31 L170.0,196.95 L170.5,187.86 L171.0,181.18 L171.5,187.73 L172.0,196.67 L172.5,201.11 L173.0,202.58 L173.5,203.00 L174.0,203.15 L174.5,203.32 L175.0,203.47 L175.5,203.70 L176.0,203.91 L176.5,203.86 L177.0,203.65 L177.5,203.49 L178.0,203.44 L178.5,203.55 L179.0,203.70 L179.5,203.71 L180.0,203.67 L180.5,203.65 L181.0,203.72 L181.5,203.74 L182.0,203.52 L182.5,203.30 L183.0,203.16 L183.5,202.78 L184.0,201.39 L184.5,197.54 L185.0,190.44 L185.5,185.55 L186.0,190.83 L186.5,198.04 L187.0,201.61 L187.5,202.87 L188.0,203.26 L188.5,203.34 L189.0,203.49 L189.5,203.60 L190.0,203.75 L190.5,203.84 L191.0,203.73 L191.5,203.80 L192.0,203.88 L192.5,203.84 L193.0,203.92 L193.5,204.01 L194.0,203.99 L194.5,204.00 L195.0,203.91 L195.5,203.83 L196.0,204.10 L196.5,204.30 L197.0,204.21 L197.5,204.02 L198.0,203.84 L198.5,203.81 L199.0,203.82 L199.5,203.89 L200.0,203.97 L200.5,203.90 L201.0,203.78 L201.5,203.72 L202.0,203.81 L202.5,203.88 L203.0,203.80 L203.5,203.88 L204.0,203.98 L204.5,203.78 L205.0,203.63 L205.5,203.74 L206.0,203.98 L206.5,204.04 L207.0,203.79 L207.5,203.53 L208.0,203.47 L208.5,203.38 L209.0,203.14 L209.5,202.89 L210.0,202.06 L210.5,199.42 L211.0,192.94 L211.5,182.12 L212.0,174.99 L212.5,181.96 L213.0,192.88 L213.5,199.29 L214.0,201.74 L214.5,202.67 L215.0,203.04 L215.5,203.14 L216.0,203.23 L216.5,203.49 L217.0,203.87 L217.5,204.03 L218.0,203.97 L218.5,203.85 L219.0,203.63 L219.5,203.34 L220.0,202.91 L220.5,202.55 L221.0,202.79 L221.5,203.30 L222.0,203.53 L222.5,203.56 L223.0,203.45 L223.5,203.03 L224.0,202.32 L224.5,201.80 L225.0,202.21 L225.5,203.01 L226.0,203.49 L226.5,203.67 L227.0,203.81 L227.5,203.97 L228.0,204.06 L228.5,203.97 L229.0,203.75 L229.5,203.72 L230.0,203.79 L230.5,203.79 L231.0,203.70 L231.5,203.67 L232.0,203.69 L232.5,203.50 L233.0,203.29 L233.5,203.20 L234.0,202.75 L234.5,201.57 L235.0,198.61 L235.5,191.86 L236.0,181.54 L236.5,175.13 L237.0,181.36 L237.5,191.72 L238.0,198.52 L238.5,201.55 L239.0,202.67 L239.5,203.09 L240.0,203.13 L240.5,203.15 L241.0,203.40 L241.5,203.59 L242.0,203.82 L242.5,204.04 L243.0,204.00 L243.5,203.93 L244.0,203.95 L244.5,203.97 L245.0,203.94 L245.5,203.92 L246.0,204.00 L246.5,204.16 L247.0,204.20 L247.5,204.19 L248.0,204.14 L248.5,204.10 L249.0,204.13 L249.5,204.21 L250.0,204.26 L250.5,204.17 L251.0,204.05 L251.5,204.12 L252.0,204.27 L252.5,204.20 L253.0,204.19 L253.5,204.35 L254.0,204.38 L254.5,204.26 L255.0,204.27 L255.5,204.41 L256.0,204.36 L256.5,204.23 L257.0,204.10 L257.5,203.93 L258.0,203.96 L258.5,204.14 L259.0,204.19 L259.5,204.05 L260.0,203.86 L260.5,203.73 L261.0,203.57 L261.5,203.37 L262.0,203.42 L262.5,203.79 L263.0,204.11 L263.5,204.10 L264.0,203.91 L264.5,203.68 L265.0,203.52 L265.5,203.65 L266.0,203.82 L266.5,203.80 L267.0,203.55 L267.5,202.87 L268.0,201.24 L268.5,198.06 L269.0,193.55 L269.5,190.81 L270.0,193.25 L270.5,197.83 L271.0,201.34 L271.5,203.05 L272.0,203.52 L272.5,203.64 L273.0,203.80 L273.5,203.95 L274.0,204.01 L274.5,204.09 L275.0,204.14 L275.5,204.17 L276.0,204.25 L276.5,204.24 L277.0,204.18 L277.5,204.17 L278.0,204.22 L278.5,204.28 L279.0,204.27 L279.5,204.25 L280.0,204.16 L280.5,204.14 L281.0,204.23 L281.5,204.25 L282.0,204.32 L282.5,204.28 L283.0,204.09 L283.5,204.08 L284.0,204.15 L284.5,204.13 L285.0,204.18 L285.5,204.31 L286.0,204.34 L286.5,204.32 L287.0,204.30 L287.5,204.29 L288.0,204.25 L288.5,204.31 L289.0,204.38 L289.5,204.34 L290.0,204.22 L290.5,204.20 L291.0,204.31 L291.5,204.36 L292.0,204.28 L292.5,204.27 L293.0,204.48 L293.5,204.61 L294.0,204.45 L294.5,204.38 L295.0,204.26 L295.5,204.10 L296.0,204.18 L296.5,204.34 L297.0,204.43 L297.5,204.34 L298.0,204.23 L298.5,204.28 L299.0,204.31 L299.5,204.27 L300.0,204.22 L300.5,204.16 L301.0,204.26 L301.5,204.47 L302.0,204.57 L302.5,204.47 L303.0,204.39 L303.5,204.43 L304.0,204.46 L304.5,204.45 L305.0,204.30 L305.5,204.09 L306.0,203.93 L306.5,203.68 L307.0,203.07 L307.5,201.65 L308.0,199.05 L308.5,195.91 L309.0,194.32 L309.5,195.96 L310.0,199.13 L310.5,201.57 L311.0,202.88 L311.5,203.66 L312.0,204.03 L312.5,204.17 L313.0,204.38 L313.5,204.37 L314.0,204.21 L314.5,204.27 L315.0,204.32 L315.5,204.30 L316.0,204.20 L316.5,203.95 L317.0,203.65 L317.5,203.33 L318.0,202.98 L318.5,202.63 L319.0,202.40 L319.5,202.61 L320.0,203.13 L320.5,203.57 L321.0,203.78 L321.5,203.86 L322.0,204.00 L322.5,204.19 L323.0,204.28 L323.5,204.35 L324.0,204.44 L324.5,204.44 L325.0,204.41 L325.5,204.46 L326.0,204.47 L326.5,204.48 L327.0,204.55 L327.5,204.56 L328.0,204.49 L328.5,204.49 L329.0,204.56 L329.5,204.64 L330.0,204.63 L330.5,204.60 L331.0,204.58 L331.5,204.59 L332.0,204.61 L332.5,204.43 L333.0,204.33 L333.5,204.51 L334.0,204.50 L334.5,204.35 L335.0,204.35 L335.5,204.49 L336.0,204.68 L336.5,204.56 L337.0,204.37 L337.5,204.44 L338.0,204.57 L338.5,204.60 L339.0,204.35 L339.5,204.19 L340.0,204.34 L340.5,204.41 L341.0,204.28 L341.5,204.21 L342.0,204.42 L342.5,204.44 L343.0,204.19 L343.5,204.06 L344.0,203.94 L344.5,203.76 L345.0,203.40 L345.5,203.18 L346.0,203.37 L346.5,203.60 L347.0,203.82 L347.5,204.08 L348.0,204.12 L348.5,204.22 L349.0,204.48 L349.5,204.44 L350.0,204.34 L350.5,204.31 L351.0,204.12 L351.5,203.99 L352.0,203.92 L352.5,203.75 L353.0,203.57 L353.5,203.35 L354.0,203.18 L354.5,203.32 L355.0,203.58 L355.5,203.78 L356.0,204.02 L356.5,204.24 L357.0,204.46 L357.5,204.54 L358.0,204.43 L358.5,204.36 L359.0,204.41 L359.5,204.48 L360.0,204.55 L360.5,204.51 L361.0,204.48 L361.5,204.62 L362.0,204.62 L362.5,204.56 L363.0,204.60 L363.5,204.54 L364.0,204.48 L364.5,204.47 L365.0,204.41 L365.5,204.40 L366.0,204.52 L366.5,204.69 L367.0,204.66 L367.5,204.53 L368.0,204.49 L368.5,204.34 L369.0,204.12 L369.5,203.73 L370.0,203.00 L370.5,201.85 L371.0,200.31 L371.5,199.52 L372.0,200.26 L372.5,201.56 L373.0,202.55 L373.5,203.28 L374.0,203.96 L374.5,204.33 L375.0,204.40 L375.5,204.48 L376.0,204.45 L376.5,204.29 L377.0,204.04 L377.5,203.56 L378.0,202.87 L378.5,201.94 L379.0,200.69 L379.5,200.00 L380.0,200.61 L380.5,201.75 L381.0,202.78 L381.5,203.53 L382.0,203.80 L382.5,203.81 L383.0,203.98 L383.5,204.11 L384.0,203.94 L384.5,203.82 L385.0,203.67 L385.5,202.99 L386.0,201.57 L386.5,199.29 L387.0,196.04 L387.5,192.44 L388.0,190.57 L388.5,192.29 L389.0,196.13 L389.5,199.61 L390.0,201.80 L390.5,203.01 L391.0,203.68 L391.5,204.05 L392.0,204.17 L392.5,204.18 L393.0,204.28 L393.5,204.33 L394.0,204.34 L394.5,204.45 L395.0,204.51 L395.5,204.53 L396.0,204.51 L396.5,204.46 L397.0,204.54 L397.5,204.67 L398.0,204.73 L398.5,204.70 L399.0,204.50 L399.5,204.45 L400.0,204.63 L400.5,204.84 L401.0,204.95 L401.5,204.81 L402.0,204.67 L402.5,204.68 L403.0,204.57 L403.5,204.63 L404.0,204.90 L404.5,204.90 L405.0,204.82 L405.5,204.89 L406.0,204.93 L406.5,204.88 L407.0,204.77 L407.5,204.56 L408.0,204.54 L408.5,204.79 L409.0,204.85 L409.5,204.65 L410.0,204.41 L410.5,204.10 L411.0,203.80 L411.5,203.64 L412.0,203.52 L412.5,203.58 L413.0,203.90 L413.5,204.25 L414.0,204.48 L414.5,204.53 L415.0,204.51 L415.5,204.70 L416.0,204.81 L416.5,204.58 L417.0,204.42 L417.5,204.33 L418.0,204.03 L418.5,203.44 L419.0,202.87 L419.5,202.69 L420.0,202.85 L420.5,203.31 L421.0,203.88 L421.5,204.28 L422.0,204.70 L422.5,205.01 L423.0,204.96 L423.5,204.78 L424.0,204.65 L424.5,204.59 L425.0,204.60 L425.5,204.61 L426.0,204.61 L426.5,204.66 L427.0,204.69 L427.5,204.62 L428.0,204.54 L428.5,204.63 L429.0,204.80 L429.5,204.91 L430.0,204.99 L430.5,204.98 L431.0,204.89 L431.5,204.82 L432.0,204.85 L432.5,205.07 L433.0,205.08 L433.5,204.83 L434.0,204.74 L434.5,204.74 L435.0,204.64 L435.5,204.72 L436.0,204.90 L436.5,204.89 L437.0,204.87 L437.5,204.89 L438.0,204.83 L438.5,204.82 L439.0,204.80 L439.5,204.79 L440.0,204.83 L440.5,204.90 L441.0,205.00 L441.5,205.03 L442.0,205.01 L442.5,204.91 L443.0,204.84 L443.5,204.73 L444.0,204.70 L444.5,204.88 L445.0,204.91 L445.5,204.87 L446.0,204.92 L446.5,204.89 L447.0,204.90 L447.5,204.99 L448.0,204.90 L448.5,204.84 L449.0,205.02 L449.5,205.04 L450.0,204.85 L450.5,204.71 L451.0,204.62 L451.5,204.72 L452.0,204.90 L452.5,204.86 L453.0,204.77 L453.5,204.90 L454.0,205.05 L454.5,204.95 L455.0,204.93 L455.5,205.07 L456.0,205.06 L456.5,204.94 L457.0,204.80 L457.5,204.69 L458.0,204.72 L458.5,204.83 L459.0,204.92 L459.5,205.01 L460.0,205.04 L460.5,205.02 L461.0,204.94 L461.5,204.75 L462.0,204.66 L462.5,204.75 L463.0,204.80 L463.5,204.83 L464.0,204.84 L464.5,204.77 L465.0,204.78 L465.5,204.91 L466.0,204.94 L466.5,204.94 L467.0,204.98 L467.5,204.92 L468.0,204.86 L468.5,205.03 L469.0,205.14 L469.5,205.07 L470.0,205.13 L470.5,205.26 L471.0,205.16 L471.5,205.07 L472.0,205.15 L472.5,205.07 L473.0,204.93 L473.5,204.96 L474.0,205.01 L474.5,204.97 L475.0,204.98 L475.5,204.99 L476.0,204.80 L476.5,204.66 L477.0,204.64 L477.5,204.41 L478.0,203.86 L478.5,203.26 L479.0,203.10 L479.5,203.46 L480.0,203.91 L480.5,204.22 L481.0,204.53 L481.5,204.68 L482.0,204.66 L482.5,204.82 L483.0,205.00 L483.5,204.94 L484.0,204.92 L484.5,205.09 L485.0,205.19 L485.5,205.11 L486.0,204.97 L486.5,205.01 L487.0,205.07 L487.5,204.95 L488.0,204.93 L488.5,205.12 L489.0,205.12 L489.5,204.79 L490.0,204.52 L490.5,204.51 L491.0,204.51 L491.5,204.40 L492.0,204.10 L492.5,203.63 L493.0,203.38 L493.5,203.57 L494.0,203.95 L494.5,204.34 L495.0,204.77 L495.5,205.13 L496.0,205.09 L496.5,204.84 L497.0,204.77 L497.5,204.72 L498.0,204.59 L498.5,204.46 L499.0,204.36 L499.5,204.21 L500.0,204.02 L500.5,204.00 L501.0,204.19 L501.5,204.47 L502.0,204.76 L502.5,204.96 L503.0,205.04 L503.5,205.02 L504.0,205.04 L504.5,204.96 L505.0,204.64 L505.5,204.20 L506.0,203.90 L506.5,203.78 L507.0,203.70 L507.5,203.84 L508.0,204.18 L508.5,204.48 L509.0,204.68 L509.5,204.89 L510.0,205.09 L510.5,205.12 L511.0,205.05 L511.5,205.07 L512.0,205.15 L512.5,205.13 L513.0,205.13 L513.5,205.27 L514.0,205.24 L514.5,205.22 L515.0,205.34 L515.5,205.32 L516.0,205.22 L516.5,205.14 L517.0,205.03 L517.5,204.91 L518.0,204.95 L518.5,205.07 L519.0,205.06 L519.5,205.09 L520.0,205.06 L520.5,205.01 L521.0,205.11 L521.5,205.22 L522.0,205.35 L522.5,205.41 L523.0,205.36 L523.5,205.26 L524.0,205.20 L524.5,205.24 L525.0,205.22 L525.5,205.15 L526.0,205.16" fill="none" stroke="#b06ee6" stroke-width="2.1" stroke-linejoin="round"/>
<path d="M46.0,238.80 L46.9,238.84 L47.4,238.83 L47.9,238.73 L48.4,238.74 L48.9,238.76 L49.4,238.64 L49.9,238.74 L50.4,238.80 L50.9,238.58 L51.4,238.64 L51.9,238.77 L52.4,238.82 L52.9,238.87 L53.4,238.77 L53.9,238.92 L54.4,239.11 L54.9,239.00 L55.4,238.88 L55.9,238.81 L56.4,238.80 L56.9,238.82 L57.4,238.75 L57.9,238.81 L58.4,238.88 L58.9,238.76 L59.4,238.76 L59.9,238.78 L60.4,238.78 L60.9,238.92 L61.4,238.87 L61.9,238.72 L62.4,238.74 L62.9,238.75 L63.4,238.76 L63.9,238.80 L64.4,238.85 L64.9,238.90 L65.4,238.90 L65.9,238.94 L66.4,238.97 L66.9,238.94 L67.4,238.84 L67.9,238.74 L68.4,238.77 L68.9,238.93 L69.4,239.13 L69.9,239.23 L70.4,239.15 L70.9,238.98 L71.4,238.91 L71.9,238.92 L72.4,238.99 L72.9,239.10 L73.4,239.03 L73.9,238.83 L74.4,238.86 L74.9,239.03 L75.4,239.00 L75.9,238.96 L76.4,239.00 L76.9,238.92 L77.4,238.84 L77.9,238.75 L78.4,238.74 L78.9,238.85 L79.4,238.81 L79.9,238.76 L80.4,238.86 L80.9,238.96 L81.4,238.96 L81.9,238.84 L82.4,238.75 L82.9,238.76 L83.4,238.79 L83.9,238.91 L84.4,238.99 L84.9,239.06 L85.4,239.17 L85.9,239.13 L86.4,239.03 L86.9,238.97 L87.4,238.97 L87.9,239.08 L88.4,239.03 L88.9,238.91 L89.4,239.00 L89.9,239.08 L90.4,239.07 L90.9,238.95 L91.4,238.75 L91.9,238.81 L92.4,239.04 L92.9,238.93 L93.4,238.75 L93.9,238.80 L94.4,238.71 L94.9,238.47 L95.4,238.33 L95.9,238.42 L96.4,238.54 L96.9,238.46 L97.4,238.22 L97.9,237.88 L98.4,236.84 L98.9,232.68 L99.4,219.01 L99.9,204.85 L100.4,219.00 L100.9,232.76 L101.4,236.83 L101.9,237.74 L102.4,238.06 L102.9,238.46 L103.4,238.75 L103.9,238.63 L104.4,238.57 L104.9,238.80 L105.4,238.97 L105.9,238.92 L106.4,238.88 L106.9,238.94 L107.4,238.86 L107.9,238.77 L108.4,238.84 L108.9,238.98 L109.4,239.09 L109.9,239.10 L110.4,239.08 L110.9,239.10 L111.4,239.11 L111.9,239.04 L112.4,238.83 L112.9,238.82 L113.4,238.94 L113.9,238.90 L114.4,238.91 L114.9,238.96 L115.4,238.93 L115.9,239.00 L116.4,238.98 L116.9,238.82 L117.4,239.02 L117.9,239.18 L118.4,238.95 L118.9,238.73 L119.4,238.52 L119.9,237.16 L120.4,233.06 L120.9,229.43 L121.4,233.10 L121.9,237.06 L122.4,238.45 L122.9,238.77 L123.4,238.84 L123.9,238.87 L124.4,238.87 L124.9,238.90 L125.4,238.97 L125.9,238.96 L126.4,239.01 L126.9,239.17 L127.4,239.07 L127.9,238.99 L128.4,239.10 L128.9,239.10 L129.4,239.11 L129.9,239.14 L130.4,239.14 L130.9,239.11 L131.4,239.06 L131.9,239.19 L132.4,239.21 L132.9,238.99 L133.4,239.02 L133.9,239.09 L134.4,238.92 L134.9,238.96 L135.4,239.11 L135.9,239.02 L136.4,238.88 L136.9,238.62 L137.4,238.42 L137.9,238.54 L138.4,238.81 L138.9,239.03 L139.4,239.11 L139.9,239.12 L140.4,239.21 L140.9,239.32 L141.4,239.25 L141.9,239.06 L142.4,239.06 L142.9,239.13 L143.4,239.10 L143.9,239.05 L144.4,239.05 L144.9,239.13 L145.4,239.27 L145.9,239.31 L146.4,239.35 L146.9,239.40 L147.4,239.46 L147.9,239.58 L148.4,239.49 L148.9,239.28 L149.4,239.03 L149.9,238.88 L150.4,239.05 L150.9,239.32 L151.4,239.35 L151.9,239.27 L152.4,239.33 L152.9,239.32 L153.4,239.14 L153.9,239.00 L154.4,239.08 L154.9,239.22 L155.4,239.28 L155.9,239.21 L156.4,239.16 L156.9,239.30 L157.4,239.37 L157.9,239.37 L158.4,239.41 L158.9,239.39 L159.4,239.20 L159.9,239.00 L160.4,239.07 L160.9,239.32 L161.4,239.36 L161.9,239.23 L162.4,239.16 L162.9,239.18 L163.4,239.18 L163.9,239.11 L164.4,239.19 L164.9,239.35 L165.4,239.24 L165.9,238.99 L166.4,238.87 L166.9,238.93 L167.4,239.05 L167.9,238.98 L168.4,238.76 L168.9,238.50 L169.4,238.00 L169.9,236.73 L170.4,232.83 L170.9,224.66 L171.4,218.52 L171.9,224.46 L172.4,232.73 L172.9,236.87 L173.4,238.04 L173.9,238.32 L174.4,238.58 L174.9,238.86 L175.4,239.01 L175.9,239.09 L176.4,239.23 L176.9,239.28 L177.4,239.21 L177.9,239.15 L178.4,239.15 L178.9,239.24 L179.4,239.28 L179.9,239.22 L180.4,239.16 L180.9,239.02 L181.4,238.85 L181.9,238.88 L182.4,238.99 L182.9,238.99 L183.4,238.81 L183.9,238.33 L184.4,237.12 L184.9,233.55 L185.4,226.53 L185.9,221.52 L186.4,226.36 L186.9,233.28 L187.4,236.90 L187.9,238.28 L188.4,238.76 L188.9,238.96 L189.4,239.15 L189.9,239.13 L190.4,239.08 L190.9,239.10 L191.4,239.15 L191.9,239.24 L192.4,239.37 L192.9,239.48 L193.4,239.46 L193.9,239.37 L194.4,239.24 L194.9,239.15 L195.4,239.19 L195.9,239.28 L196.4,239.38 L196.9,239.47 L197.4,239.55 L197.9,239.55 L198.4,239.48 L198.9,239.42 L199.4,239.41 L199.9,239.47 L200.4,239.44 L200.9,239.34 L201.4,239.49 L201.9,239.63 L202.4,239.44 L202.9,239.26 L203.4,239.16 L203.9,239.18 L204.4,239.35 L204.9,239.36 L205.4,239.39 L205.9,239.57 L206.4,239.52 L206.9,239.26 L207.4,239.21 L207.9,239.18 L208.4,239.04 L208.9,238.87 L209.4,238.68 L209.9,238.41 L210.4,237.57 L210.9,235.20 L211.4,229.27 L211.9,219.18 L212.4,212.56 L212.9,219.15 L213.4,229.31 L213.9,235.21 L214.4,237.38 L214.9,238.11 L215.4,238.45 L215.9,238.68 L216.4,238.91 L216.9,238.96 L217.4,238.90 L217.9,239.07 L218.4,239.24 L218.9,239.15 L219.4,239.02 L219.9,238.82 L220.4,238.30 L220.9,237.90 L221.4,238.19 L221.9,238.77 L222.4,239.20 L222.9,239.26 L223.4,238.92 L223.9,238.26 L224.4,237.47 L224.9,237.05 L225.4,237.50 L225.9,238.25 L226.4,238.91 L226.9,239.25 L227.4,239.31 L227.9,239.29 L228.4,239.16 L228.9,239.08 L229.4,239.22 L229.9,239.43 L230.4,239.41 L230.9,239.31 L231.4,239.28 L231.9,239.24 L232.4,239.22 L232.9,239.04 L233.4,238.79 L233.9,238.53 L234.4,237.97 L234.9,236.79 L235.4,233.94 L235.9,227.46 L236.4,217.36 L236.9,211.13 L237.4,217.39 L237.9,227.63 L238.4,234.14 L238.9,237.00 L239.4,238.26 L239.9,238.78 L240.4,238.83 L240.9,238.79 L241.4,238.99 L241.9,239.23 L242.4,239.38 L242.9,239.41 L243.4,239.34 L243.9,239.36 L244.4,239.46 L244.9,239.55 L245.4,239.58 L245.9,239.55 L246.4,239.41 L246.9,239.27 L247.4,239.30 L247.9,239.36 L248.4,239.46 L248.9,239.69 L249.4,239.77 L249.9,239.61 L250.4,239.47 L250.9,239.47 L251.4,239.58 L251.9,239.71 L252.4,239.72 L252.9,239.64 L253.4,239.47 L253.9,239.32 L254.4,239.35 L254.9,239.46 L255.4,239.59 L255.9,239.59 L256.4,239.50 L256.9,239.60 L257.4,239.69 L257.9,239.53 L258.4,239.44 L258.9,239.48 L259.4,239.47 L259.9,239.50 L260.4,239.63 L260.9,239.52 L261.4,239.11 L261.9,238.85 L262.4,238.79 L262.9,238.91 L263.4,239.13 L263.9,239.35 L264.4,239.49 L264.9,239.44 L265.4,239.39 L265.9,239.38 L266.4,239.31 L266.9,239.22 L267.4,239.04 L267.9,238.44 L268.4,236.98 L268.9,234.06 L269.4,230.00 L269.9,227.71 L270.4,230.02 L270.9,234.04 L271.4,236.87 L271.9,238.27 L272.4,238.98 L272.9,239.20 L273.4,239.29 L273.9,239.52 L274.4,239.58 L274.9,239.59 L275.4,239.69 L275.9,239.64 L276.4,239.68 L276.9,239.78 L277.4,239.66 L277.9,239.65 L278.4,239.71 L278.9,239.62 L279.4,239.65 L279.9,239.87 L280.4,239.94 L280.9,239.75 L281.4,239.71 L281.9,239.80 L282.4,239.71 L282.9,239.64 L283.4,239.73 L283.9,239.80 L284.4,239.86 L284.9,239.95 L285.4,239.94 L285.9,239.87 L286.4,239.76 L286.9,239.66 L287.4,239.71 L287.9,239.76 L288.4,239.75 L288.9,239.72 L289.4,239.78 L289.9,240.01 L290.4,240.06 L290.9,239.88 L291.4,239.79 L291.9,239.85 L292.4,239.93 L292.9,239.90 L293.4,239.81 L293.9,239.78 L294.4,239.74 L294.9,239.73 L295.4,239.78 L295.9,239.78 L296.4,239.82 L296.9,239.89 L297.4,239.92 L297.9,239.90 L298.4,239.85 L298.9,239.78 L299.4,239.79 L299.9,239.81 L300.4,239.80 L300.9,239.85 L301.4,239.77 L301.9,239.62 L302.4,239.61 L302.9,239.67 L303.4,239.68 L303.9,239.52 L304.4,239.39 L304.9,239.51 L305.4,239.61 L305.9,239.48 L306.4,239.32 L306.9,239.02 L307.4,238.36 L307.9,237.25 L308.4,235.16 L308.9,232.40 L309.4,230.94 L309.9,232.35 L310.4,235.08 L310.9,237.32 L311.4,238.71 L311.9,239.40 L312.4,239.55 L312.9,239.53 L313.4,239.50 L313.9,239.60 L314.4,239.72 L314.9,239.59 L315.4,239.52 L315.9,239.58 L316.4,239.65 L316.9,239.54 L317.4,239.14 L317.9,238.91 L318.4,238.61 L318.9,238.12 L319.4,237.98 L319.9,238.34 L320.4,238.75 L320.9,238.90 L321.4,239.16 L321.9,239.65 L322.4,239.88 L322.9,239.69 L323.4,239.64 L323.9,239.86 L324.4,239.97 L324.9,239.98 L325.4,239.92 L325.9,239.83 L326.4,239.91 L326.9,240.11 L327.4,240.03 L327.9,239.72 L328.4,239.81 L328.9,240.05 L329.4,239.92 L329.9,239.78 L330.4,239.86 L330.9,239.93 L331.4,239.91 L331.9,239.88 L332.4,239.87 L332.9,239.91 L333.4,239.92 L333.9,239.88 L334.4,239.88 L334.9,240.00 L335.4,240.11 L335.9,240.06 L336.4,240.00 L336.9,240.04 L337.4,240.09 L337.9,240.13 L338.4,240.17 L338.9,240.25 L339.4,240.19 L339.9,240.00 L340.4,239.95 L340.9,240.04 L341.4,240.03 L341.9,239.86 L342.4,239.63 L342.9,239.58 L343.4,239.71 L343.9,239.69 L344.4,239.36 L344.9,238.97 L345.4,238.74 L345.9,238.62 L346.4,238.76 L346.9,239.02 L347.4,239.21 L347.9,239.34 L348.4,239.42 L348.9,239.52 L349.4,239.66 L349.9,239.85 L350.4,239.97 L350.9,239.99 L351.4,239.88 L351.9,239.70 L352.4,239.55 L352.9,239.33 L353.4,239.08 L353.9,238.76 L354.4,238.55 L354.9,238.71 L355.4,239.03 L355.9,239.36 L356.4,239.76 L356.9,239.97 L357.4,239.90 L357.9,239.76 L358.4,239.71 L358.9,239.83 L359.4,239.83 L359.9,239.77 L360.4,239.96 L360.9,240.05 L361.4,239.95 L361.9,239.89 L362.4,239.94 L362.9,239.97 L363.4,239.88 L363.9,240.00 L364.4,240.20 L364.9,240.13 L365.4,240.04 L365.9,239.93 L366.4,239.83 L366.9,239.90 L367.4,239.90 L367.9,239.80 L368.4,239.85 L368.9,239.89 L369.4,239.54 L369.9,238.79 L370.4,237.75 L370.9,236.43 L371.4,235.09 L371.9,234.42 L372.4,235.08 L372.9,236.46 L373.4,237.82 L373.9,238.86 L374.4,239.36 L374.9,239.53 L375.4,239.70 L375.9,239.81 L376.4,239.72 L376.9,239.44 L377.4,239.19 L377.9,238.97 L378.4,238.38 L378.9,237.28 L379.4,236.07 L379.9,235.54 L380.4,236.19 L380.9,237.34 L381.4,238.31 L381.9,238.92 L382.4,239.30 L382.9,239.49 L383.4,239.43 L383.9,239.37 L384.4,239.46 L384.9,239.47 L385.4,239.23 L385.9,238.61 L386.4,237.24 L386.9,234.78 L387.4,231.32 L387.9,227.84 L388.4,226.30 L388.9,228.06 L389.4,231.67 L389.9,235.05 L390.4,237.28 L390.9,238.53 L391.4,239.21 L391.9,239.59 L392.4,239.77 L392.9,239.86 L393.4,239.86 L393.9,239.83 L394.4,239.85 L394.9,239.95 L395.4,239.98 L395.9,239.88 L396.4,240.08 L396.9,240.32 L397.4,240.15 L397.9,240.00 L398.4,240.15 L398.9,240.28 L399.4,240.25 L399.9,240.23 L400.4,240.20 L400.9,240.32 L401.4,240.50 L401.9,240.34 L402.4,240.12 L402.9,240.15 L403.4,240.24 L403.9,240.31 L404.4,240.32 L404.9,240.20 L405.4,240.10 L405.9,240.18 L406.4,240.19 L406.9,240.09 L407.4,240.00 L407.9,240.02 L408.4,240.07 L408.9,240.03 L409.4,239.95 L409.9,239.93 L410.4,239.77 L410.9,239.39 L411.4,239.01 L411.9,238.75 L412.4,238.59 L412.9,238.59 L413.4,238.91 L413.9,239.31 L414.4,239.71 L414.9,240.01 L415.4,240.05 L415.9,240.03 L416.4,240.11 L416.9,240.24 L417.4,240.16 L417.9,239.76 L418.4,239.15 L418.9,238.67 L419.4,238.37 L419.9,238.14 L420.4,238.32 L420.9,238.78 L421.4,239.25 L421.9,239.73 L422.4,240.04 L422.9,240.13 L423.4,240.18 L423.9,240.22 L424.4,240.27 L424.9,240.40 L425.4,240.51 L425.9,240.49 L426.4,240.45 L426.9,240.28 L427.4,240.13 L427.9,240.27 L428.4,240.37 L428.9,240.34 L429.4,240.26 L429.9,240.18 L430.4,240.27 L430.9,240.49 L431.4,240.52 L431.9,240.34 L432.4,240.33 L432.9,240.44 L433.4,240.48 L433.9,240.56 L434.4,240.46 L434.9,240.36 L435.4,240.55 L435.9,240.56 L436.4,240.43 L436.9,240.48 L437.4,240.54 L437.9,240.53 L438.4,240.37 L438.9,240.26 L439.4,240.44 L439.9,240.66 L440.4,240.78 L440.9,240.75 L441.4,240.58 L441.9,240.42 L442.4,240.35 L442.9,240.34 L443.4,240.33 L443.9,240.24 L444.4,240.18 L444.9,240.33 L445.4,240.59 L445.9,240.76 L446.4,240.64 L446.9,240.48 L447.4,240.43 L447.9,240.33 L448.4,240.24 L448.9,240.31 L449.4,240.55 L449.9,240.55 L450.4,240.38 L450.9,240.46 L451.4,240.60 L451.9,240.60 L452.4,240.50 L452.9,240.38 L453.4,240.38 L453.9,240.51 L454.4,240.55 L454.9,240.39 L455.4,240.39 L455.9,240.51 L456.4,240.52 L456.9,240.58 L457.4,240.63 L457.9,240.70 L458.4,240.77 L458.9,240.71 L459.4,240.58 L459.9,240.42 L460.4,240.43 L460.9,240.63 L461.4,240.78 L461.9,240.86 L462.4,240.85 L462.9,240.69 L463.4,240.61 L463.9,240.64 L464.4,240.58 L464.9,240.47 L465.4,240.47 L465.9,240.53 L466.4,240.50 L466.9,240.46 L467.4,240.47 L467.9,240.52 L468.4,240.53 L468.9,240.49 L469.4,240.40 L469.9,240.47 L470.4,240.60 L470.9,240.52 L471.4,240.48 L471.9,240.37 L472.4,240.29 L472.9,240.47 L473.4,240.54 L473.9,240.47 L474.4,240.48 L474.9,240.41 L475.4,240.35 L475.9,240.39 L476.4,240.48 L476.9,240.46 L477.4,240.14 L477.9,239.86 L478.4,239.37 L478.9,238.59 L479.4,238.34 L479.9,238.78 L480.4,239.34 L480.9,239.90 L481.4,240.28 L481.9,240.32 L482.4,240.17 L482.9,240.17 L483.4,240.35 L483.9,240.47 L484.4,240.55 L484.9,240.53 L485.4,240.52 L485.9,240.73 L486.4,240.82 L486.9,240.66 L487.4,240.48 L487.9,240.44 L488.4,240.47 L488.9,240.44 L489.4,240.44 L489.9,240.54 L490.4,240.57 L490.9,240.45 L491.4,240.31 L491.9,240.13 L492.4,239.57 L492.9,238.92 L493.4,238.82 L493.9,239.24 L494.4,239.71 L494.9,240.02 L495.4,240.20 L495.9,240.38 L496.4,240.51 L496.9,240.48 L497.4,240.40 L497.9,240.41 L498.4,240.39 L498.9,240.13 L499.4,239.84 L499.9,239.70 L500.4,239.62 L500.9,239.78 L501.4,240.14 L501.9,240.45 L502.4,240.56 L502.9,240.49 L503.4,240.43 L503.9,240.50 L504.4,240.66 L504.9,240.67 L505.4,240.47 L505.9,239.99 L506.4,239.53 L506.9,239.34 L507.4,239.19 L507.9,239.31 L508.4,239.75 L508.9,240.19 L509.4,240.37 L509.9,240.44 L510.4,240.60 L510.9,240.61 L511.4,240.67 L511.9,240.88 L512.4,240.86 L512.9,240.61 L513.4,240.50 L513.9,240.66 L514.4,240.78 L514.9,240.68 L515.4,240.55 L515.9,240.52 L516.4,240.58 L516.9,240.74 L517.4,240.89 L517.9,240.86 L518.4,240.74 L518.9,240.77 L519.4,240.80 L519.9,240.73 L520.4,240.83 L520.9,240.99 L521.4,240.95 L521.9,240.85 L522.4,240.78 L522.9,240.67 L523.4,240.60 L523.9,240.75 L524.4,241.01 L524.9,241.13 L525.4,241.06 L525.9,240.93 L526.4,240.83" fill="none" stroke="#20a85c" stroke-width="2.1" stroke-linejoin="round"/>
<path d="M46.0,282.13 L47.2,282.18 L47.7,282.21 L48.2,282.20 L48.7,282.20 L49.2,282.05 L49.7,281.91 L50.2,281.92 L50.7,281.91 L51.2,282.03 L51.7,282.24 L52.2,282.25 L52.7,282.28 L53.2,282.40 L53.7,282.37 L54.2,282.29 L54.7,282.34 L55.2,282.32 L55.7,282.25 L56.2,282.18 L56.7,282.05 L57.2,282.05 L57.7,282.19 L58.2,282.25 L58.7,282.20 L59.2,282.23 L59.7,282.38 L60.2,282.45 L60.7,282.44 L61.2,282.37 L61.7,282.23 L62.2,282.18 L62.7,282.22 L63.2,282.18 L63.7,282.24 L64.2,282.36 L64.7,282.24 L65.2,282.14 L65.7,282.32 L66.2,282.45 L66.7,282.39 L67.2,282.34 L67.7,282.22 L68.2,282.12 L68.7,282.12 L69.2,282.27 L69.7,282.35 L70.2,282.29 L70.7,282.29 L71.2,282.20 L71.7,282.20 L72.2,282.34 L72.7,282.36 L73.2,282.21 L73.7,282.10 L74.2,282.13 L74.7,282.28 L75.2,282.44 L75.7,282.36 L76.2,282.19 L76.7,282.10 L77.2,282.06 L77.7,282.13 L78.2,282.26 L78.7,282.29 L79.2,282.25 L79.7,282.17 L80.2,282.22 L80.7,282.30 L81.2,282.11 L81.7,282.02 L82.2,282.13 L82.7,282.12 L83.2,282.18 L83.7,282.27 L84.2,282.25 L84.7,282.25 L85.2,282.29 L85.7,282.42 L86.2,282.43 L86.7,282.24 L87.2,282.14 L87.7,282.14 L88.2,282.27 L88.7,282.28 L89.2,282.18 L89.7,282.17 L90.2,282.08 L90.7,281.96 L91.2,282.08 L91.7,282.33 L92.2,282.32 L92.7,282.17 L93.2,282.17 L93.7,282.12 L94.2,281.97 L94.7,282.11 L95.2,282.28 L95.7,282.10 L96.2,281.98 L96.7,281.90 L97.2,281.68 L97.7,281.51 L98.2,281.20 L98.7,280.21 L99.2,276.11 L99.7,262.23 L100.2,247.90 L100.7,262.33 L101.2,276.27 L101.7,280.26 L102.2,280.98 L102.7,281.27 L103.2,281.72 L103.7,281.94 L104.2,281.81 L104.7,281.72 L105.2,281.91 L105.7,282.10 L106.2,282.06 L106.7,282.07 L107.2,282.25 L107.7,282.33 L108.2,282.26 L108.7,282.18 L109.2,282.25 L109.7,282.43 L110.2,282.43 L110.7,282.21 L111.2,282.05 L111.7,282.12 L112.2,282.23 L112.7,282.25 L113.2,282.32 L113.7,282.35 L114.2,282.33 L114.7,282.35 L115.2,282.28 L115.7,282.15 L116.2,282.27 L116.7,282.38 L117.2,282.16 L117.7,282.11 L118.2,282.20 L118.7,282.05 L119.2,281.76 L119.7,281.43 L120.2,280.29 L120.7,276.63 L121.2,273.11 L121.7,276.55 L122.2,280.31 L122.7,281.55 L123.2,281.86 L123.7,282.01 L124.2,282.16 L124.7,282.32 L125.2,282.31 L125.7,282.25 L126.2,282.30 L126.7,282.22 L127.2,282.13 L127.7,282.13 L128.2,282.12 L128.7,282.23 L129.2,282.31 L129.7,282.32 L130.2,282.32 L130.7,282.29 L131.2,282.21 L131.7,282.15 L132.2,282.18 L132.7,282.19 L133.2,282.20 L133.7,282.27 L134.2,282.21 L134.7,282.02 L135.2,281.96 L135.7,282.06 L136.2,282.07 L136.7,281.94 L137.2,281.81 L137.7,281.74 L138.2,281.75 L138.7,281.80 L139.2,281.87 L139.7,281.98 L140.2,282.15 L140.7,282.29 L141.2,282.33 L141.7,282.31 L142.2,282.33 L142.7,282.39 L143.2,282.39 L143.7,282.38 L144.2,282.35 L144.7,282.24 L145.2,282.22 L145.7,282.35 L146.2,282.39 L146.7,282.32 L147.2,282.40 L147.7,282.52 L148.2,282.37 L148.7,282.29 L149.2,282.30 L149.7,282.24 L150.2,282.39 L150.7,282.59 L151.2,282.57 L151.7,282.49 L152.2,282.45 L152.7,282.44 L153.2,282.44 L153.7,282.36 L154.2,282.30 L154.7,282.38 L155.2,282.46 L155.7,282.46 L156.2,282.33 L156.7,282.23 L157.2,282.48 L157.7,282.72 L158.2,282.58 L158.7,282.33 L159.2,282.25 L159.7,282.27 L160.2,282.28 L160.7,282.32 L161.2,282.36 L161.7,282.46 L162.2,282.40 L162.7,282.18 L163.2,282.19 L163.7,282.16 L164.2,282.06 L164.7,282.12 L165.2,282.25 L165.7,282.24 L166.2,282.15 L166.7,282.30 L167.2,282.41 L167.7,282.24 L168.2,282.04 L168.7,281.77 L169.2,281.47 L169.7,281.11 L170.2,279.82 L170.7,275.62 L171.2,266.86 L171.7,260.20 L172.2,266.68 L172.7,275.50 L173.2,279.59 L173.7,280.88 L174.2,281.42 L174.7,281.74 L175.2,281.95 L175.7,282.12 L176.2,282.33 L176.7,282.42 L177.2,282.30 L177.7,282.22 L178.2,282.29 L178.7,282.27 L179.2,282.16 L179.7,282.22 L180.2,282.30 L180.7,282.32 L181.2,282.39 L181.7,282.28 L182.2,282.05 L182.7,281.91 L183.2,281.81 L183.7,281.62 L184.2,281.20 L184.7,280.00 L185.2,276.30 L185.7,269.12 L186.2,263.95 L186.7,268.94 L187.2,276.27 L187.7,280.08 L188.2,281.39 L188.7,281.82 L189.2,282.07 L189.7,282.26 L190.2,282.30 L190.7,282.25 L191.2,282.17 L191.7,282.24 L192.2,282.28 L192.7,282.26 L193.2,282.31 L193.7,282.44 L194.2,282.42 L194.7,282.23 L195.2,282.21 L195.7,282.33 L196.2,282.41 L196.7,282.39 L197.2,282.36 L197.7,282.37 L198.2,282.46 L198.7,282.48 L199.2,282.37 L199.7,282.27 L200.2,282.22 L200.7,282.35 L201.2,282.42 L201.7,282.39 L202.2,282.32 L202.7,282.08 L203.2,281.95 L203.7,282.05 L204.2,282.18 L204.7,282.26 L205.2,282.26 L205.7,282.28 L206.2,282.27 L206.7,282.11 L207.2,281.92 L207.7,282.00 L208.2,282.04 L208.7,281.76 L209.2,281.68 L209.7,281.68 L210.2,281.20 L210.7,280.19 L211.2,277.76 L211.7,271.53 L212.2,260.74 L212.7,253.64 L213.2,260.66 L213.7,271.49 L214.2,277.96 L214.7,280.43 L215.2,281.07 L215.7,281.35 L216.2,281.79 L216.7,282.12 L217.2,282.16 L217.7,282.23 L218.2,282.30 L218.7,282.18 L219.2,282.11 L219.7,281.99 L220.2,281.71 L220.7,281.41 L221.2,281.18 L221.7,281.27 L222.2,281.54 L222.7,281.82 L223.2,281.97 L223.7,281.85 L224.2,281.32 L224.7,280.48 L225.2,280.09 L225.7,280.68 L226.2,281.45 L226.7,281.98 L227.2,282.19 L227.7,282.11 L228.2,282.10 L228.7,282.27 L229.2,282.36 L229.7,282.24 L230.2,281.97 L230.7,281.80 L231.2,281.80 L231.7,281.96 L232.2,282.13 L232.7,282.06 L233.2,281.86 L233.7,281.70 L234.2,281.44 L234.7,280.91 L235.2,279.79 L235.7,276.59 L236.2,269.34 L236.7,258.64 L237.2,252.18 L237.7,258.74 L238.2,269.52 L238.7,276.59 L239.2,279.75 L239.7,280.98 L240.2,281.37 L240.7,281.39 L241.2,281.45 L241.7,281.66 L242.2,281.75 L242.7,281.90 L243.2,282.23 L243.7,282.27 L244.2,282.17 L244.7,282.33 L245.2,282.39 L245.7,282.34 L246.2,282.33 L246.7,282.20 L247.2,282.12 L247.7,282.14 L248.2,282.28 L248.7,282.39 L249.2,282.28 L249.7,282.20 L250.2,282.30 L250.7,282.40 L251.2,282.48 L251.7,282.49 L252.2,282.37 L252.7,282.27 L253.2,282.35 L253.7,282.40 L254.2,282.39 L254.7,282.55 L255.2,282.64 L255.7,282.51 L256.2,282.52 L256.7,282.58 L257.2,282.43 L257.7,282.29 L258.2,282.32 L258.7,282.47 L259.2,282.51 L259.7,282.45 L260.2,282.48 L260.7,282.55 L261.2,282.34 L261.7,281.95 L262.2,281.72 L262.7,281.68 L263.2,281.84 L263.7,281.99 L264.2,282.08 L264.7,282.09 L265.2,282.07 L265.7,282.13 L266.2,282.16 L266.7,282.08 L267.2,281.88 L267.7,281.59 L268.2,280.95 L268.7,279.49 L269.2,276.55 L269.7,272.35 L270.2,269.90 L270.7,272.25 L271.2,276.43 L271.7,279.43 L272.2,280.98 L272.7,281.71 L273.2,282.06 L273.7,282.19 L274.2,282.27 L274.7,282.39 L275.2,282.44 L275.7,282.49 L276.2,282.52 L276.7,282.45 L277.2,282.43 L277.7,282.46 L278.2,282.47 L278.7,282.56 L279.2,282.67 L279.7,282.63 L280.2,282.45 L280.7,282.36 L281.2,282.44 L281.7,282.56 L282.2,282.61 L282.7,282.54 L283.2,282.53 L283.7,282.58 L284.2,282.52 L284.7,282.59 L285.2,282.79 L285.7,282.82 L286.2,282.70 L286.7,282.56 L287.2,282.49 L287.7,282.56 L288.2,282.60 L288.7,282.55 L289.2,282.51 L289.7,282.52 L290.2,282.55 L290.7,282.65 L291.2,282.74 L291.7,282.58 L292.2,282.35 L292.7,282.29 L293.2,282.30 L293.7,282.42 L294.2,282.59 L294.7,282.60 L295.2,282.53 L295.7,282.51 L296.2,282.42 L296.7,282.29 L297.2,282.29 L297.7,282.46 L298.2,282.58 L298.7,282.54 L299.2,282.67 L299.7,282.73 L300.2,282.58 L300.7,282.48 L301.2,282.45 L301.7,282.51 L302.2,282.56 L302.7,282.57 L303.2,282.63 L303.7,282.63 L304.2,282.53 L304.7,282.43 L305.2,282.36 L305.7,282.24 L306.2,282.09 L306.7,282.00 L307.2,281.69 L307.7,281.00 L308.2,279.47 L308.7,276.44 L309.2,272.77 L309.7,270.88 L310.2,272.67 L310.7,276.21 L311.2,279.09 L311.7,280.77 L312.2,281.64 L312.7,282.08 L313.2,282.32 L313.7,282.44 L314.2,282.49 L314.7,282.43 L315.2,282.40 L315.7,282.43 L316.2,282.32 L316.7,282.28 L317.2,282.33 L317.7,282.13 L318.2,281.75 L318.7,281.41 L319.2,280.98 L319.7,280.67 L320.2,280.79 L320.7,281.17 L321.2,281.61 L321.7,282.02 L322.2,282.37 L322.7,282.46 L323.2,282.40 L323.7,282.39 L324.2,282.40 L324.7,282.51 L325.2,282.63 L325.7,282.52 L326.2,282.37 L326.7,282.47 L327.2,282.64 L327.7,282.71 L328.2,282.67 L328.7,282.56 L329.2,282.56 L329.7,282.58 L330.2,282.62 L330.7,282.70 L331.2,282.68 L331.7,282.60 L332.2,282.55 L332.7,282.43 L333.2,282.44 L333.7,282.60 L334.2,282.56 L334.7,282.41 L335.2,282.45 L335.7,282.66 L336.2,282.84 L336.7,282.85 L337.2,282.67 L337.7,282.47 L338.2,282.54 L338.7,282.68 L339.2,282.70 L339.7,282.66 L340.2,282.70 L340.7,282.85 L341.2,282.83 L341.7,282.60 L342.2,282.56 L342.7,282.66 L343.2,282.58 L343.7,282.56 L344.2,282.41 L344.7,281.96 L345.2,281.60 L345.7,281.37 L346.2,281.29 L346.7,281.52 L347.2,281.88 L347.7,282.10 L348.2,282.27 L348.7,282.45 L349.2,282.46 L349.7,282.56 L350.2,282.69 L350.7,282.52 L351.2,282.40 L351.7,282.37 L352.2,282.13 L352.7,281.96 L353.2,281.90 L353.7,281.58 L354.2,281.25 L354.7,281.13 L355.2,281.19 L355.7,281.49 L356.2,282.03 L356.7,282.49 L357.2,282.61 L357.7,282.51 L358.2,282.41 L358.7,282.42 L359.2,282.50 L359.7,282.60 L360.2,282.62 L360.7,282.59 L361.2,282.57 L361.7,282.46 L362.2,282.45 L362.7,282.51 L363.2,282.43 L363.7,282.39 L364.2,282.46 L364.7,282.51 L365.2,282.61 L365.7,282.69 L366.2,282.63 L366.7,282.55 L367.2,282.55 L367.7,282.45 L368.2,282.27 L368.7,282.21 L369.2,282.04 L369.7,281.71 L370.2,281.20 L370.7,280.14 L371.2,278.53 L371.7,276.57 L372.2,275.43 L372.7,276.51 L373.2,278.65 L373.7,280.37 L374.2,281.42 L374.7,281.81 L375.2,281.86 L375.7,282.01 L376.2,282.27 L376.7,282.29 L377.2,282.08 L377.7,281.87 L378.2,281.42 L378.7,280.50 L379.2,279.43 L379.7,278.41 L380.2,277.81 L380.7,278.33 L381.2,279.59 L381.7,280.62 L382.2,281.18 L382.7,281.59 L383.2,281.94 L383.7,282.14 L384.2,282.21 L384.7,282.04 L385.2,281.64 L385.7,281.23 L386.2,280.60 L386.7,278.99 L387.2,275.91 L387.7,271.63 L388.2,267.30 L388.7,265.20 L389.2,267.27 L389.7,271.84 L390.2,276.20 L390.7,279.14 L391.2,280.79 L391.7,281.60 L392.2,281.85 L392.7,281.93 L393.2,281.96 L393.7,281.95 L394.2,282.19 L394.7,282.49 L395.2,282.50 L395.7,282.44 L396.2,282.42 L396.7,282.35 L397.2,282.47 L397.7,282.67 L398.2,282.67 L398.7,282.62 L399.2,282.78 L399.7,282.86 L400.2,282.74 L400.7,282.63 L401.2,282.44 L401.7,282.42 L402.2,282.64 L402.7,282.72 L403.2,282.67 L403.7,282.61 L404.2,282.66 L404.7,282.84 L405.2,282.89 L405.7,282.66 L406.2,282.56 L406.7,282.74 L407.2,282.82 L407.7,282.76 L408.2,282.80 L408.7,282.85 L409.2,282.71 L409.7,282.43 L410.2,282.10 L410.7,281.81 L411.2,281.44 L411.7,280.93 L412.2,280.38 L412.7,280.15 L413.2,280.46 L413.7,280.89 L414.2,281.43 L414.7,281.90 L415.2,282.16 L415.7,282.42 L416.2,282.53 L416.7,282.54 L417.2,282.56 L417.7,282.32 L418.2,281.85 L418.7,281.18 L419.2,280.43 L419.7,279.87 L420.2,279.66 L420.7,280.03 L421.2,280.64 L421.7,281.13 L422.2,281.59 L422.7,282.09 L423.2,282.49 L423.7,282.56 L424.2,282.49 L424.7,282.57 L425.2,282.71 L425.7,282.73 L426.2,282.62 L426.7,282.60 L427.2,282.78 L427.7,282.89 L428.2,282.90 L428.7,282.92 L429.2,282.81 L429.7,282.79 L430.2,282.87 L430.7,282.86 L431.2,282.79 L431.7,282.76 L432.2,282.78 L432.7,282.90 L433.2,282.94 L433.7,282.95 L434.2,282.92 L434.7,282.73 L435.2,282.79 L435.7,282.96 L436.2,282.78 L436.7,282.70 L437.2,282.91 L437.7,282.89 L438.2,282.77 L438.7,282.79 L439.2,282.69 L439.7,282.62 L440.2,282.72 L440.7,282.71 L441.2,282.67 L441.7,282.68 L442.2,282.71 L442.7,282.79 L443.2,282.87 L443.7,282.89 L444.2,282.76 L444.7,282.61 L445.2,282.62 L445.7,282.83 L446.2,283.03 L446.7,282.98 L447.2,282.87 L447.7,282.85 L448.2,282.83 L448.7,282.87 L449.2,282.90 L449.7,282.94 L450.2,282.94 L450.7,282.87 L451.2,282.82 L451.7,282.75 L452.2,282.85 L452.7,283.18 L453.2,283.38 L453.7,283.15 L454.2,282.85 L454.7,282.81 L455.2,282.83 L455.7,282.70 L456.2,282.71 L456.7,282.79 L457.2,282.84 L457.7,283.02 L458.2,283.03 L458.7,282.83 L459.2,282.71 L459.7,282.63 L460.2,282.67 L460.7,282.87 L461.2,282.97 L461.7,282.95 L462.2,282.89 L462.7,282.84 L463.2,282.80 L463.7,282.74 L464.2,282.87 L464.7,283.10 L465.2,283.06 L465.7,282.88 L466.2,282.89 L466.7,283.09 L467.2,283.05 L467.7,282.79 L468.2,282.76 L468.7,282.94 L469.2,282.97 L469.7,282.88 L470.2,282.88 L470.7,283.00 L471.2,283.12 L471.7,283.03 L472.2,282.86 L472.7,282.88 L473.2,282.99 L473.7,282.92 L474.2,282.78 L474.7,282.74 L475.2,282.66 L475.7,282.60 L476.2,282.55 L476.7,282.50 L477.2,282.46 L477.7,282.35 L478.2,282.17 L478.7,281.74 L479.2,281.10 L479.7,280.81 L480.2,281.06 L480.7,281.37 L481.2,281.86 L481.7,282.47 L482.2,282.81 L482.7,282.87 L483.2,282.76 L483.7,282.65 L484.2,282.74 L484.7,282.84 L485.2,282.77 L485.7,282.67 L486.2,282.62 L486.7,282.71 L487.2,282.92 L487.7,282.89 L488.2,282.71 L488.7,282.65 L489.2,282.76 L489.7,282.80 L490.2,282.72 L490.7,282.59 L491.2,282.41 L491.7,282.33 L492.2,282.31 L492.7,281.96 L493.2,281.38 L493.7,281.21 L494.2,281.52 L494.7,281.87 L495.2,282.23 L495.7,282.58 L496.2,282.80 L496.7,282.93 L497.2,282.90 L497.7,282.76 L498.2,282.70 L498.7,282.58 L499.2,282.30 L499.7,282.14 L500.2,281.98 L500.7,281.83 L501.2,282.05 L501.7,282.34 L502.2,282.54 L502.7,282.74 L503.2,282.90 L503.7,282.93 L504.2,282.81 L504.7,282.72 L505.2,282.77 L505.7,282.80 L506.2,282.45 L506.7,281.86 L507.2,281.40 L507.7,281.25 L508.2,281.51 L508.7,282.08 L509.2,282.48 L509.7,282.58 L510.2,282.78 L510.7,282.89 L511.2,282.81 L511.7,282.81 L512.2,282.85 L512.7,282.95 L513.2,282.95 L513.7,282.89 L514.2,282.97 L514.7,283.05 L515.2,283.10 L515.7,283.13 L516.2,283.13 L516.7,283.13 L517.2,283.10 L517.7,282.98 L518.2,282.91 L518.7,283.03 L519.2,283.18 L519.7,283.12 L520.2,282.86 L520.7,282.90 L521.2,283.01 L521.7,282.89 L522.2,283.00 L522.7,283.26 L523.2,283.19 L523.7,283.03 L524.2,283.14 L524.7,283.22 L525.2,283.14 L525.7,283.08 L526.2,282.98 L526.7,282.91" fill="none" stroke="#1a5ce8" stroke-width="2.1" stroke-linejoin="round"/>
<path d="M46.0,323.78 L46.5,323.85 L47.0,323.94 L47.5,323.98 L48.0,323.73 L48.5,323.51 L49.0,323.65 L49.5,323.83 L50.0,323.86 L50.5,323.78 L51.0,323.80 L51.5,323.88 L52.0,323.85 L52.5,323.83 L53.0,323.75 L53.5,323.74 L54.0,323.76 L54.5,323.58 L55.0,323.62 L55.5,323.80 L56.0,323.84 L56.5,323.87 L57.0,323.82 L57.5,323.88 L58.0,324.01 L58.5,323.90 L59.0,323.74 L59.5,323.66 L60.0,323.72 L60.5,323.88 L61.0,323.92 L61.5,323.82 L62.0,323.79 L62.5,323.78 L63.0,323.67 L63.5,323.70 L64.0,323.75 L64.5,323.74 L65.0,323.77 L65.5,323.73 L66.0,323.81 L66.5,324.02 L67.0,324.07 L67.5,324.01 L68.0,323.96 L68.5,323.99 L69.0,324.04 L69.5,324.14 L70.0,324.15 L70.5,323.96 L71.0,323.86 L71.5,323.68 L72.0,323.41 L72.5,323.53 L73.0,323.82 L73.5,323.89 L74.0,323.89 L74.5,324.01 L75.0,324.03 L75.5,323.96 L76.0,324.08 L76.5,324.14 L77.0,323.95 L77.5,323.86 L78.0,323.96 L78.5,323.90 L79.0,323.82 L79.5,323.83 L80.0,323.87 L80.5,323.99 L81.0,324.07 L81.5,324.07 L82.0,323.95 L82.5,323.81 L83.0,323.86 L83.5,323.93 L84.0,324.02 L84.5,324.14 L85.0,323.96 L85.5,323.85 L86.0,324.00 L86.5,324.00 L87.0,323.89 L87.5,323.86 L88.0,323.94 L88.5,324.01 L89.0,323.96 L89.5,323.88 L90.0,323.92 L90.5,323.99 L91.0,323.80 L91.5,323.50 L92.0,323.53 L92.5,323.67 L93.0,323.74 L93.5,323.83 L94.0,323.88 L94.5,323.82 L95.0,323.69 L95.5,323.69 L96.0,323.66 L96.5,323.42 L97.0,323.23 L97.5,322.93 L98.0,321.78 L98.5,317.58 L99.0,303.90 L99.5,289.70 L100.0,304.01 L100.5,317.89 L101.0,321.87 L101.5,322.79 L102.0,323.26 L102.5,323.48 L103.0,323.58 L103.5,323.67 L104.0,323.71 L104.5,323.69 L105.0,323.70 L105.5,323.73 L106.0,323.65 L106.5,323.72 L107.0,323.91 L107.5,323.90 L108.0,323.85 L108.5,323.86 L109.0,323.88 L109.5,323.90 L110.0,323.86 L110.5,323.87 L111.0,323.92 L111.5,323.93 L112.0,323.88 L112.5,323.70 L113.0,323.75 L113.5,323.94 L114.0,323.90 L114.5,323.84 L115.0,323.84 L115.5,323.80 L116.0,323.71 L116.5,323.60 L117.0,323.63 L117.5,323.72 L118.0,323.78 L118.5,323.66 L119.0,323.30 L119.5,322.05 L120.0,318.12 L120.5,314.40 L121.0,317.93 L121.5,321.99 L122.0,323.31 L122.5,323.49 L123.0,323.56 L123.5,323.72 L124.0,323.93 L124.5,324.03 L125.0,324.07 L125.5,323.87 L126.0,323.72 L126.5,323.88 L127.0,323.94 L127.5,323.99 L128.0,324.09 L128.5,324.07 L129.0,324.07 L129.5,323.99 L130.0,323.91 L130.5,323.95 L131.0,324.00 L131.5,324.12 L132.0,324.13 L132.5,324.05 L133.0,324.06 L133.5,324.03 L134.0,323.98 L134.5,323.97 L135.0,323.88 L135.5,323.70 L136.0,323.44 L136.5,323.28 L137.0,323.21 L137.5,323.22 L138.0,323.40 L138.5,323.66 L139.0,323.85 L139.5,323.90 L140.0,324.04 L140.5,324.17 L141.0,324.02 L141.5,323.85 L142.0,323.98 L142.5,324.10 L143.0,324.09 L143.5,324.14 L144.0,324.16 L144.5,324.08 L145.0,323.99 L145.5,323.94 L146.0,323.97 L146.5,324.04 L147.0,324.11 L147.5,324.08 L148.0,324.02 L148.5,324.04 L149.0,323.99 L149.5,323.84 L150.0,323.83 L150.5,323.90 L151.0,323.96 L151.5,323.98 L152.0,323.95 L152.5,323.97 L153.0,324.08 L153.5,324.01 L154.0,323.88 L154.5,323.89 L155.0,324.01 L155.5,324.13 L156.0,324.06 L156.5,323.97 L157.0,324.01 L157.5,324.01 L158.0,324.10 L158.5,324.20 L159.0,324.17 L159.5,324.18 L160.0,324.13 L160.5,324.06 L161.0,324.17 L161.5,324.22 L162.0,324.09 L162.5,324.00 L163.0,324.05 L163.5,324.03 L164.0,324.04 L164.5,324.18 L165.0,324.08 L165.5,323.90 L166.0,323.90 L166.5,323.96 L167.0,323.92 L167.5,323.80 L168.0,323.70 L168.5,323.36 L169.0,322.63 L169.5,321.07 L170.0,316.48 L170.5,307.13 L171.0,300.27 L171.5,307.18 L172.0,316.50 L172.5,321.20 L173.0,322.77 L173.5,323.20 L174.0,323.44 L174.5,323.54 L175.0,323.58 L175.5,323.79 L176.0,323.94 L176.5,323.89 L177.0,323.77 L177.5,323.74 L178.0,323.82 L178.5,323.91 L179.0,323.94 L179.5,324.01 L180.0,324.15 L180.5,324.05 L181.0,323.78 L181.5,323.75 L182.0,323.81 L182.5,323.68 L183.0,323.55 L183.5,323.10 L184.0,321.57 L184.5,317.62 L185.0,310.24 L185.5,304.97 L186.0,310.13 L186.5,317.64 L187.0,321.62 L187.5,322.90 L188.0,323.30 L188.5,323.46 L189.0,323.63 L189.5,323.77 L190.0,323.68 L190.5,323.76 L191.0,323.91 L191.5,323.90 L192.0,324.06 L192.5,324.14 L193.0,324.02 L193.5,323.96 L194.0,323.97 L194.5,324.06 L195.0,324.11 L195.5,324.17 L196.0,324.25 L196.5,324.27 L197.0,324.28 L197.5,324.15 L198.0,324.00 L198.5,324.07 L199.0,324.07 L199.5,324.02 L200.0,324.14 L200.5,324.16 L201.0,324.06 L201.5,323.99 L202.0,324.02 L202.5,324.05 L203.0,324.01 L203.5,323.89 L204.0,323.83 L204.5,323.92 L205.0,323.73 L205.5,323.43 L206.0,323.16 L206.5,322.53 L207.0,321.98 L207.5,322.45 L208.0,323.05 L208.5,323.31 L209.0,323.35 L209.5,323.05 L210.0,322.08 L210.5,319.40 L211.0,312.83 L211.5,301.85 L212.0,294.81 L212.5,301.91 L213.0,312.68 L213.5,319.13 L214.0,321.68 L214.5,322.57 L215.0,323.02 L215.5,323.24 L216.0,323.41 L216.5,323.68 L217.0,323.78 L217.5,323.69 L218.0,323.73 L218.5,323.80 L219.0,323.68 L219.5,323.43 L220.0,323.15 L220.5,322.98 L221.0,323.17 L221.5,323.59 L222.0,324.02 L222.5,324.04 L223.0,323.64 L223.5,323.13 L224.0,322.41 L224.5,321.88 L225.0,322.35 L225.5,323.12 L226.0,323.56 L226.5,323.73 L227.0,323.76 L227.5,323.75 L228.0,323.88 L228.5,324.21 L229.0,324.33 L229.5,324.20 L230.0,324.10 L230.5,324.10 L231.0,324.11 L231.5,324.03 L232.0,323.82 L232.5,323.58 L233.0,323.40 L233.5,323.07 L234.0,322.48 L234.5,321.44 L235.0,318.66 L235.5,311.83 L236.0,301.26 L236.5,295.03 L237.0,301.49 L237.5,311.79 L238.0,318.56 L238.5,321.64 L239.0,322.79 L239.5,323.14 L240.0,323.34 L240.5,323.51 L241.0,323.58 L241.5,323.83 L242.0,324.07 L242.5,324.11 L243.0,324.15 L243.5,324.19 L244.0,324.19 L244.5,324.12 L245.0,324.04 L245.5,324.07 L246.0,324.20 L246.5,324.38 L247.0,324.43 L247.5,324.28 L248.0,324.10 L248.5,324.08 L249.0,324.22 L249.5,324.36 L250.0,324.32 L250.5,324.19 L251.0,324.19 L251.5,324.30 L252.0,324.30 L252.5,324.25 L253.0,324.33 L253.5,324.41 L254.0,324.39 L254.5,324.47 L255.0,324.45 L255.5,324.35 L256.0,324.32 L256.5,324.22 L257.0,324.11 L257.5,324.09 L258.0,324.12 L258.5,324.19 L259.0,324.22 L259.5,324.22 L260.0,323.98 L260.5,323.53 L261.0,323.02 L261.5,322.21 L262.0,321.68 L262.5,322.27 L263.0,323.23 L263.5,323.77 L264.0,323.81 L264.5,323.89 L265.0,323.85 L265.5,323.73 L266.0,323.78 L266.5,323.67 L267.0,323.27 L267.5,322.71 L268.0,321.12 L268.5,317.24 L269.0,311.93 L269.5,309.11 L270.0,312.08 L270.5,317.15 L271.0,320.78 L271.5,322.59 L272.0,323.37 L272.5,323.61 L273.0,323.66 L273.5,323.80 L274.0,324.01 L274.5,324.20 L275.0,324.23 L275.5,324.17 L276.0,324.20 L276.5,324.36 L277.0,324.44 L277.5,324.33 L278.0,324.33 L278.5,324.33 L279.0,324.24 L279.5,324.28 L280.0,324.31 L280.5,324.30 L281.0,324.41 L281.5,324.52 L282.0,324.49 L282.5,324.38 L283.0,324.47 L283.5,324.54 L284.0,324.36 L284.5,324.36 L285.0,324.46 L285.5,324.45 L286.0,324.44 L286.5,324.45 L287.0,324.51 L287.5,324.52 L288.0,324.42 L288.5,324.37 L289.0,324.35 L289.5,324.32 L290.0,324.29 L290.5,324.29 L291.0,324.48 L291.5,324.67 L292.0,324.70 L292.5,324.54 L293.0,324.42 L293.5,324.44 L294.0,324.37 L294.5,324.43 L295.0,324.51 L295.5,324.40 L296.0,324.42 L296.5,324.44 L297.0,324.32 L297.5,324.29 L298.0,324.34 L298.5,324.39 L299.0,324.51 L299.5,324.46 L300.0,324.24 L300.5,324.20 L301.0,324.21 L301.5,324.13 L302.0,324.14 L302.5,324.23 L303.0,324.17 L303.5,324.04 L304.0,324.10 L304.5,324.13 L305.0,323.96 L305.5,323.94 L306.0,324.05 L306.5,323.71 L307.0,322.71 L307.5,321.14 L308.0,318.53 L308.5,315.11 L309.0,313.31 L309.5,315.20 L310.0,318.52 L310.5,320.99 L311.0,322.45 L311.5,323.37 L312.0,323.89 L312.5,323.95 L313.0,323.93 L313.5,324.14 L314.0,324.27 L314.5,324.20 L315.0,324.18 L315.5,324.28 L316.0,324.29 L316.5,324.12 L317.0,323.86 L317.5,323.49 L318.0,323.02 L318.5,322.66 L319.0,322.58 L319.5,322.75 L320.0,323.15 L320.5,323.64 L321.0,324.00 L321.5,324.12 L322.0,324.13 L322.5,324.24 L323.0,324.27 L323.5,324.21 L324.0,324.32 L324.5,324.53 L325.0,324.52 L325.5,324.33 L326.0,324.27 L326.5,324.35 L327.0,324.48 L327.5,324.52 L328.0,324.29 L328.5,324.17 L329.0,324.34 L329.5,324.46 L330.0,324.52 L330.5,324.66 L331.0,324.71 L331.5,324.51 L332.0,324.31 L332.5,324.28 L333.0,324.45 L333.5,324.56 L334.0,324.56 L334.5,324.59 L335.0,324.62 L335.5,324.66 L336.0,324.54 L336.5,324.35 L337.0,324.28 L337.5,324.19 L338.0,324.23 L338.5,324.46 L339.0,324.68 L339.5,324.71 L340.0,324.54 L340.5,324.37 L341.0,324.37 L341.5,324.49 L342.0,324.45 L342.5,324.33 L343.0,324.30 L343.5,324.05 L344.0,323.68 L344.5,323.49 L345.0,323.26 L345.5,323.05 L346.0,323.25 L346.5,323.74 L347.0,324.15 L347.5,324.26 L348.0,324.16 L348.5,324.23 L349.0,324.36 L349.5,324.27 L350.0,324.15 L350.5,324.24 L351.0,324.47 L351.5,324.45 L352.0,324.17 L352.5,323.83 L353.0,323.46 L353.5,323.21 L354.0,323.13 L354.5,323.26 L355.0,323.59 L355.5,323.79 L356.0,324.03 L356.5,324.33 L357.0,324.43 L357.5,324.44 L358.0,324.31 L358.5,324.24 L359.0,324.34 L359.5,324.43 L360.0,324.45 L360.5,324.29 L361.0,324.24 L361.5,324.45 L362.0,324.56 L362.5,324.46 L363.0,324.42 L363.5,324.44 L364.0,324.35 L364.5,324.31 L365.0,324.34 L365.5,324.42 L366.0,324.47 L366.5,324.42 L367.0,324.45 L367.5,324.36 L368.0,324.08 L368.5,323.94 L369.0,323.82 L369.5,323.42 L370.0,322.51 L370.5,321.14 L371.0,319.84 L371.5,319.22 L372.0,319.77 L372.5,321.11 L373.0,322.47 L373.5,323.40 L374.0,323.90 L374.5,324.13 L375.0,324.20 L375.5,324.23 L376.0,324.15 L376.5,323.85 L377.0,323.67 L377.5,323.35 L378.0,322.53 L378.5,321.34 L379.0,320.00 L379.5,319.34 L380.0,319.96 L380.5,321.30 L381.0,322.57 L381.5,323.35 L382.0,323.85 L382.5,324.16 L383.0,324.07 L383.5,323.93 L384.0,324.01 L384.5,323.98 L385.0,323.76 L385.5,323.09 L386.0,321.67 L386.5,319.44 L387.0,316.11 L387.5,312.39 L388.0,310.46 L388.5,312.01 L389.0,315.85 L389.5,319.42 L390.0,321.56 L390.5,322.83 L391.0,323.63 L391.5,324.07 L392.0,324.19 L392.5,324.10 L393.0,324.23 L393.5,324.36 L394.0,324.29 L394.5,324.45 L395.0,324.72 L395.5,324.74 L396.0,324.49 L396.5,324.27 L397.0,324.41 L397.5,324.57 L398.0,324.54 L398.5,324.71 L399.0,324.88 L399.5,324.67 L400.0,324.49 L400.5,324.56 L401.0,324.57 L401.5,324.56 L402.0,324.63 L402.5,324.70 L403.0,324.62 L403.5,324.50 L404.0,324.57 L404.5,324.64 L405.0,324.66 L405.5,324.76 L406.0,324.71 L406.5,324.57 L407.0,324.70 L407.5,324.91 L408.0,324.86 L408.5,324.70 L409.0,324.59 L409.5,324.36 L410.0,324.17 L410.5,324.11 L411.0,323.92 L411.5,323.65 L412.0,323.50 L412.5,323.58 L413.0,323.83 L413.5,324.17 L414.0,324.42 L414.5,324.52 L415.0,324.50 L415.5,324.35 L416.0,324.42 L416.5,324.67 L417.0,324.64 L417.5,324.28 L418.0,323.80 L418.5,323.34 L419.0,323.08 L419.5,322.92 L420.0,322.99 L420.5,323.48 L421.0,323.99 L421.5,324.22 L422.0,324.35 L422.5,324.45 L423.0,324.55 L423.5,324.71 L424.0,324.68 L424.5,324.62 L425.0,324.82 L425.5,324.84 L426.0,324.80 L426.5,324.85 L427.0,324.74 L427.5,324.76 L428.0,324.74 L428.5,324.60 L429.0,324.71 L429.5,324.77 L430.0,324.67 L430.5,324.64 L431.0,324.66 L431.5,324.59 L432.0,324.56 L432.5,324.58 L433.0,324.68 L433.5,324.78 L434.0,324.65 L434.5,324.59 L435.0,324.68 L435.5,324.78 L436.0,324.88 L436.5,324.87 L437.0,324.75 L437.5,324.71 L438.0,324.79 L438.5,324.89 L439.0,324.86 L439.5,324.65 L440.0,324.64 L440.5,324.94 L441.0,325.00 L441.5,324.87 L442.0,324.80 L442.5,324.69 L443.0,324.63 L443.5,324.68 L444.0,324.71 L444.5,324.63 L445.0,324.59 L445.5,324.71 L446.0,324.81 L446.5,324.77 L447.0,324.66 L447.5,324.57 L448.0,324.66 L448.5,324.71 L449.0,324.57 L449.5,324.58 L450.0,324.71 L450.5,324.76 L451.0,324.79 L451.5,324.82 L452.0,324.83 L452.5,324.72 L453.0,324.63 L453.5,324.70 L454.0,324.81 L454.5,324.84 L455.0,324.78 L455.5,324.79 L456.0,324.94 L456.5,325.02 L457.0,325.01 L457.5,324.99 L458.0,324.96 L458.5,324.97 L459.0,324.97 L459.5,324.91 L460.0,324.86 L460.5,324.97 L461.0,325.08 L461.5,324.94 L462.0,324.78 L462.5,324.78 L463.0,324.82 L463.5,324.80 L464.0,324.62 L464.5,324.58 L465.0,324.68 L465.5,324.70 L466.0,324.78 L466.5,324.92 L467.0,325.05 L467.5,325.09 L468.0,324.93 L468.5,324.74 L469.0,324.64 L469.5,324.69 L470.0,324.69 L470.5,324.62 L471.0,324.73 L471.5,324.87 L472.0,324.88 L472.5,324.83 L473.0,324.78 L473.5,324.72 L474.0,324.63 L474.5,324.60 L475.0,324.78 L475.5,324.93 L476.0,324.83 L476.5,324.61 L477.0,324.42 L477.5,324.15 L478.0,323.65 L478.5,323.16 L479.0,322.87 L479.5,323.07 L480.0,323.67 L480.5,324.16 L481.0,324.48 L481.5,324.68 L482.0,324.72 L482.5,324.75 L483.0,324.80 L483.5,324.79 L484.0,324.77 L484.5,324.68 L485.0,324.61 L485.5,324.67 L486.0,324.76 L486.5,324.88 L487.0,324.88 L487.5,324.73 L488.0,324.65 L488.5,324.55 L489.0,324.57 L489.5,324.57 L490.0,324.40 L490.5,324.38 L491.0,324.46 L491.5,324.28 L492.0,323.83 L492.5,323.50 L493.0,323.46 L493.5,323.53 L494.0,323.87 L494.5,324.43 L495.0,324.66 L495.5,324.73 L496.0,324.86 L496.5,324.88 L497.0,324.86 L497.5,324.74 L498.0,324.60 L498.5,324.54 L499.0,324.27 L499.5,323.87 L500.0,323.80 L500.5,324.05 L501.0,324.27 L501.5,324.52 L502.0,324.74 L502.5,324.72 L503.0,324.67 L503.5,324.83 L504.0,324.94 L504.5,324.93 L505.0,324.79 L505.5,324.46 L506.0,324.10 L506.5,323.71 L507.0,323.47 L507.5,323.78 L508.0,324.24 L508.5,324.59 L509.0,324.87 L509.5,324.88 L510.0,324.83 L510.5,324.95 L511.0,325.00 L511.5,324.97 L512.0,325.02 L512.5,325.10 L513.0,325.02 L513.5,324.91 L514.0,324.99 L514.5,325.01 L515.0,324.89 L515.5,324.85 L516.0,324.86 L516.5,324.89 L517.0,325.02 L517.5,325.18 L518.0,325.28 L518.5,325.24 L519.0,325.20 L519.5,325.21 L520.0,325.15 L520.5,325.04 L521.0,325.05 L521.5,325.04 L522.0,324.96 L522.5,324.90 L523.0,324.89 L523.5,324.87 L524.0,324.87 L524.5,324.98 L525.0,325.02 L525.5,325.02 L526.0,325.03" fill="none" stroke="#ec2a2e" stroke-width="2.1" stroke-linejoin="round"/>
<path d="M46.0,373.02 L46.5,372.96 L47.0,372.87 L47.5,372.72 L48.0,372.60 L48.5,372.76 L49.0,372.95 L49.5,372.90 L50.0,373.01 L50.5,373.12 L51.0,373.08 L51.5,373.20 L52.0,373.28 L52.5,373.27 L53.0,373.28 L53.5,373.11 L54.0,372.96 L54.5,372.97 L55.0,372.89 L55.5,372.77 L56.0,372.90 L56.5,373.11 L57.0,373.03 L57.5,372.91 L58.0,372.91 L58.5,372.94 L59.0,372.93 L59.5,372.86 L60.0,372.76 L60.5,372.73 L61.0,372.84 L61.5,373.05 L62.0,373.22 L62.5,373.24 L63.0,373.20 L63.5,373.08 L64.0,372.90 L64.5,372.81 L65.0,372.77 L65.5,372.71 L66.0,372.87 L66.5,373.07 L67.0,373.06 L67.5,372.98 L68.0,372.80 L68.5,372.63 L69.0,372.60 L69.5,372.63 L70.0,372.68 L70.5,372.52 L71.0,372.11 L71.5,371.81 L72.0,371.67 L72.5,371.55 L73.0,371.58 L73.5,371.84 L74.0,372.14 L74.5,372.28 L75.0,372.36 L75.5,372.44 L76.0,372.56 L76.5,372.70 L77.0,372.71 L77.5,372.69 L78.0,372.71 L78.5,372.65 L79.0,372.54 L79.5,372.57 L80.0,372.71 L80.5,372.57 L81.0,372.31 L81.5,371.98 L82.0,371.40 L82.5,370.87 L83.0,370.69 L83.5,370.86 L84.0,371.16 L84.5,371.36 L85.0,371.42 L85.5,371.41 L86.0,371.21 L86.5,370.99 L87.0,371.19 L87.5,371.61 L88.0,371.89 L88.5,372.16 L89.0,372.46 L89.5,372.60 L90.0,372.64 L90.5,372.62 L91.0,372.58 L91.5,372.58 L92.0,372.56 L92.5,372.61 L93.0,372.73 L93.5,372.79 L94.0,372.81 L94.5,372.90 L95.0,373.02 L95.5,372.88 L96.0,372.66 L96.5,372.63 L97.0,372.67 L97.5,372.69 L98.0,372.65 L98.5,372.72 L99.0,372.86 L99.5,372.79 L100.0,372.67 L100.5,372.65 L101.0,372.72 L101.5,372.82 L102.0,372.82 L102.5,372.62 L103.0,372.39 L103.5,372.54 L104.0,372.80 L104.5,372.80 L105.0,372.55 L105.5,372.38 L106.0,372.43 L106.5,372.35 L107.0,372.20 L107.5,372.31 L108.0,372.50 L108.5,372.53 L109.0,372.37 L109.5,372.30 L110.0,372.33 L110.5,372.15 L111.0,371.95 L111.5,371.93 L112.0,372.01 L112.5,371.98 L113.0,371.83 L113.5,371.63 L114.0,371.40 L114.5,371.03 L115.0,370.47 L115.5,369.62 L116.0,367.62 L116.5,363.74 L117.0,357.91 L117.5,350.71 L118.0,344.04 L118.5,341.05 L119.0,343.78 L119.5,350.34 L120.0,357.49 L120.5,363.31 L121.0,367.10 L121.5,369.11 L122.0,370.11 L122.5,370.61 L123.0,370.82 L123.5,370.92 L124.0,370.99 L124.5,371.00 L125.0,371.00 L125.5,370.94 L126.0,370.89 L126.5,370.94 L127.0,370.93 L127.5,370.95 L128.0,370.99 L128.5,370.98 L129.0,370.85 L129.5,370.76 L130.0,370.83 L130.5,370.79 L131.0,370.70 L131.5,370.69 L132.0,370.73 L132.5,370.68 L133.0,370.48 L133.5,370.28 L134.0,370.28 L134.5,370.41 L135.0,370.48 L135.5,370.34 L136.0,370.23 L136.5,370.20 L137.0,370.07 L137.5,369.94 L138.0,369.79 L138.5,369.63 L139.0,369.60 L139.5,369.41 L140.0,369.00 L140.5,368.60 L141.0,368.36 L141.5,368.04 L142.0,367.54 L142.5,367.29 L143.0,367.31 L143.5,367.30 L144.0,367.43 L144.5,367.72 L145.0,367.88 L145.5,367.84 L146.0,367.64 L146.5,367.22 L147.0,366.41 L147.5,365.16 L148.0,363.47 L148.5,361.20 L149.0,358.12 L149.5,354.19 L150.0,349.39 L150.5,344.11 L151.0,339.20 L151.5,335.03 L152.0,331.97 L152.5,330.87 L153.0,332.14 L153.5,335.21 L154.0,339.50 L154.5,344.51 L155.0,349.49 L155.5,354.10 L156.0,358.11 L156.5,361.22 L157.0,363.56 L157.5,365.39 L158.0,366.69 L158.5,367.59 L159.0,368.24 L159.5,368.66 L160.0,369.07 L160.5,369.25 L161.0,369.25 L161.5,369.46 L162.0,369.66 L162.5,369.64 L163.0,369.64 L163.5,369.90 L164.0,370.06 L164.5,369.99 L165.0,370.07 L165.5,370.18 L166.0,370.19 L166.5,370.22 L167.0,370.34 L167.5,370.51 L168.0,370.50 L168.5,370.50 L169.0,370.57 L169.5,370.55 L170.0,370.60 L170.5,370.70 L171.0,370.71 L171.5,370.61 L172.0,370.38 L172.5,369.97 L173.0,369.41 L173.5,368.77 L174.0,368.13 L174.5,367.77 L175.0,368.12 L175.5,368.85 L176.0,369.54 L176.5,370.15 L177.0,370.56 L177.5,370.69 L178.0,370.81 L178.5,370.89 L179.0,370.74 L179.5,370.47 L180.0,369.91 L180.5,369.17 L181.0,368.55 L181.5,368.29 L182.0,368.57 L182.5,369.28 L183.0,370.14 L183.5,370.92 L184.0,371.45 L184.5,371.70 L185.0,371.73 L185.5,371.60 L186.0,371.50 L186.5,371.54 L187.0,371.45 L187.5,371.24 L188.0,371.28 L188.5,371.45 L189.0,371.64 L189.5,371.88 L190.0,371.97 L190.5,371.95 L191.0,372.07 L191.5,372.25 L192.0,372.33 L192.5,372.29 L193.0,372.27 L193.5,372.31 L194.0,372.41 L194.5,372.53 L195.0,372.63 L195.5,372.64 L196.0,372.60 L196.5,372.58 L197.0,372.59 L197.5,372.67 L198.0,372.63 L198.5,372.43 L199.0,372.50 L199.5,372.70 L200.0,372.71 L200.5,372.62 L201.0,372.68 L201.5,372.75 L202.0,372.58 L202.5,372.46 L203.0,372.51 L203.5,372.60 L204.0,372.67 L204.5,372.75 L205.0,372.85 L205.5,372.78 L206.0,372.63 L206.5,372.59 L207.0,372.62 L207.5,372.79 L208.0,372.89 L208.5,372.84 L209.0,372.78 L209.5,372.72 L210.0,372.85 L210.5,372.92 L211.0,372.79 L211.5,372.86 L212.0,372.84 L212.5,372.57 L213.0,372.48 L213.5,372.64 L214.0,372.79 L214.5,372.76 L215.0,372.76 L215.5,372.83 L216.0,372.82 L216.5,372.77 L217.0,372.79 L217.5,372.81 L218.0,372.82 L218.5,372.86 L219.0,372.76 L219.5,372.69 L220.0,372.80 L220.5,372.73 L221.0,372.59 L221.5,372.61 L222.0,372.59 L222.5,372.64 L223.0,372.74 L223.5,372.71 L224.0,372.71 L224.5,372.81 L225.0,372.90 L225.5,372.76 L226.0,372.56 L226.5,372.52 L227.0,372.59 L227.5,372.69 L228.0,372.77 L228.5,372.82 L229.0,372.78 L229.5,372.74 L230.0,372.74 L230.5,372.72 L231.0,372.76 L231.5,372.82 L232.0,372.78 L232.5,372.59 L233.0,372.45 L233.5,372.53 L234.0,372.55 L234.5,372.43 L235.0,372.53 L235.5,372.66 L236.0,372.58 L236.5,372.61 L237.0,372.84 L237.5,372.86 L238.0,372.75 L238.5,372.82 L239.0,372.77 L239.5,372.72 L240.0,372.79 L240.5,372.65 L241.0,372.49 L241.5,372.50 L242.0,372.50 L242.5,372.47 L243.0,372.57 L243.5,372.69 L244.0,372.62 L244.5,372.60 L245.0,372.60 L245.5,372.49 L246.0,372.43 L246.5,372.33 L247.0,372.19 L247.5,372.07 L248.0,371.92 L248.5,371.76 L249.0,371.64 L249.5,371.71 L250.0,371.88 L250.5,371.93 L251.0,371.93 L251.5,371.99 L252.0,372.05 L252.5,372.04 L253.0,371.91 L253.5,371.58 L254.0,371.16 L254.5,370.78 L255.0,370.45 L255.5,370.53 L256.0,371.01 L256.5,371.42 L257.0,371.72 L257.5,372.03 L258.0,372.24 L258.5,372.30 L259.0,372.36 L259.5,372.34 L260.0,372.23 L260.5,372.27 L261.0,372.45 L261.5,372.56 L262.0,372.65 L262.5,372.70 L263.0,372.60 L263.5,372.51 L264.0,372.48 L264.5,372.46 L265.0,372.40 L265.5,372.47 L266.0,372.53 L266.5,372.40 L267.0,372.42 L267.5,372.53 L268.0,372.45 L268.5,372.37 L269.0,372.37 L269.5,372.35 L270.0,372.33 L270.5,372.38 L271.0,372.38 L271.5,372.41 L272.0,372.43 L272.5,372.39 L273.0,372.40 L273.5,372.42 L274.0,372.45 L274.5,372.47 L275.0,372.41 L275.5,372.30 L276.0,372.26 L276.5,372.30 L277.0,372.42 L277.5,372.53 L278.0,372.51 L278.5,372.39 L279.0,372.27 L279.5,372.08 L280.0,371.97 L280.5,372.00 L281.0,371.92 L281.5,371.65 L282.0,371.48 L282.5,371.43 L283.0,371.28 L283.5,371.41 L284.0,371.84 L284.5,372.02 L285.0,372.09 L285.5,372.22 L286.0,372.32 L286.5,372.36 L287.0,372.21 L287.5,372.15 L288.0,372.25 L288.5,372.35 L289.0,372.39 L289.5,372.25 L290.0,372.24 L290.5,372.39 L291.0,372.49 L291.5,372.52 L292.0,372.56 L292.5,372.58 L293.0,372.45 L293.5,372.41 L294.0,372.45 L294.5,372.37 L295.0,372.31 L295.5,372.29 L296.0,372.24 L296.5,372.21 L297.0,372.19 L297.5,372.22 L298.0,372.26 L298.5,372.34 L299.0,372.58 L299.5,372.69 L300.0,372.55 L300.5,372.38 L301.0,372.36 L301.5,372.47 L302.0,372.47 L302.5,372.39 L303.0,372.37 L303.5,372.39 L304.0,372.33 L304.5,372.24 L305.0,372.15 L305.5,372.20 L306.0,372.28 L306.5,372.19 L307.0,372.10 L307.5,372.04 L308.0,371.91 L308.5,371.66 L309.0,371.45 L309.5,371.62 L310.0,371.82 L310.5,371.81 L311.0,371.98 L311.5,372.21 L312.0,372.21 L312.5,372.25 L313.0,372.36 L313.5,372.38 L314.0,372.36 L314.5,372.33 L315.0,372.42 L315.5,372.52 L316.0,372.37 L316.5,372.23 L317.0,372.36 L317.5,372.39 L318.0,372.38 L318.5,372.41 L319.0,372.40 L319.5,372.48 L320.0,372.52 L320.5,372.53 L321.0,372.42 L321.5,372.29 L322.0,372.38 L322.5,372.48 L323.0,372.54 L323.5,372.51 L324.0,372.42 L324.5,372.47 L325.0,372.51 L325.5,372.40 L326.0,372.29 L326.5,372.34 L327.0,372.50 L327.5,372.51 L328.0,372.34 L328.5,372.33 L329.0,372.42 L329.5,372.36 L330.0,372.35 L330.5,372.29 L331.0,372.24 L331.5,372.35 L332.0,372.47 L332.5,372.61 L333.0,372.59 L333.5,372.37 L334.0,372.26 L334.5,372.15 L335.0,371.95 L335.5,372.00 L336.0,372.23 L336.5,372.29 L337.0,372.30 L337.5,372.37 L338.0,372.39 L338.5,372.44 L339.0,372.58 L339.5,372.63 L340.0,372.46 L340.5,372.36 L341.0,372.38 L341.5,372.34 L342.0,372.44 L342.5,372.72 L343.0,372.82 L343.5,372.63 L344.0,372.49 L344.5,372.45 L345.0,372.33 L345.5,372.44 L346.0,372.70 L346.5,372.63 L347.0,372.38 L347.5,372.37 L348.0,372.56 L348.5,372.57 L349.0,372.53 L349.5,372.55 L350.0,372.45 L350.5,372.40 L351.0,372.53 L351.5,372.51 L352.0,372.39 L352.5,372.42 L353.0,372.51 L353.5,372.56 L354.0,372.60 L354.5,372.65 L355.0,372.67 L355.5,372.58 L356.0,372.42 L356.5,372.32 L357.0,372.41 L357.5,372.71 L358.0,372.77 L358.5,372.41 L359.0,372.21 L359.5,372.28 L360.0,372.27 L360.5,372.24 L361.0,372.26 L361.5,372.29 L362.0,372.47 L362.5,372.73 L363.0,372.80 L363.5,372.68 L364.0,372.63 L364.5,372.74 L365.0,372.81 L365.5,372.73 L366.0,372.64 L366.5,372.72 L367.0,372.76 L367.5,372.60 L368.0,372.55 L368.5,372.69 L369.0,372.80 L369.5,372.81 L370.0,372.73 L370.5,372.63 L371.0,372.59 L371.5,372.55 L372.0,372.55 L372.5,372.60 L373.0,372.70 L373.5,372.75 L374.0,372.66 L374.5,372.64 L375.0,372.75 L375.5,372.87 L376.0,372.82 L376.5,372.76 L377.0,372.81 L377.5,372.77 L378.0,372.79 L378.5,372.92 L379.0,372.98 L379.5,373.02 L380.0,373.00 L380.5,372.90 L381.0,372.77 L381.5,372.71 L382.0,372.80 L382.5,372.85 L383.0,372.85 L383.5,372.78 L384.0,372.67 L384.5,372.70 L385.0,372.87 L385.5,372.94 L386.0,372.86 L386.5,372.90 L387.0,372.92 L387.5,372.78 L388.0,372.68 L388.5,372.75 L389.0,372.89 L389.5,372.88 L390.0,372.71 L390.5,372.63 L391.0,372.78 L391.5,372.90 L392.0,372.83 L392.5,372.81 L393.0,372.82 L393.5,372.75 L394.0,372.81 L394.5,372.86 L395.0,372.76 L395.5,372.74 L396.0,372.83 L396.5,372.84 L397.0,372.83 L397.5,372.87 L398.0,372.84 L398.5,372.75 L399.0,372.77 L399.5,372.93 L400.0,373.06 L400.5,373.01 L401.0,372.90 L401.5,372.97 L402.0,373.00 L402.5,372.93 L403.0,372.96 L403.5,373.07 L404.0,373.04 L404.5,372.90 L405.0,372.88 L405.5,372.89 L406.0,372.92 L406.5,373.03 L407.0,372.98 L407.5,372.82 L408.0,372.83 L408.5,372.84 L409.0,372.82 L409.5,372.91 L410.0,372.94 L410.5,372.93 L411.0,373.03 L411.5,373.10 L412.0,372.98 L412.5,372.96 L413.0,373.03 L413.5,372.92 L414.0,372.77 L414.5,372.81 L415.0,372.97 L415.5,373.02 L416.0,372.98 L416.5,372.95 L417.0,372.88 L417.5,372.80 L418.0,372.83 L418.5,372.94 L419.0,373.04 L419.5,373.05 L420.0,372.91 L420.5,372.80 L421.0,372.88 L421.5,372.96 L422.0,372.92 L422.5,373.02 L423.0,373.10 L423.5,373.03 L424.0,372.90 L424.5,372.75 L425.0,372.72 L425.5,372.77 L426.0,372.88 L426.5,372.92 L427.0,372.92 L427.5,373.02 L428.0,373.00 L428.5,372.89 L429.0,372.81 L429.5,372.78 L430.0,372.96 L430.5,373.11 L431.0,373.01 L431.5,372.93 L432.0,372.96 L432.5,373.03 L433.0,373.02 L433.5,372.87 L434.0,372.75 L434.5,372.88 L435.0,373.04 L435.5,373.02 L436.0,372.99 L436.5,372.86 L437.0,372.78 L437.5,372.93 L438.0,372.99 L438.5,372.91 L439.0,372.92 L439.5,372.95 L440.0,372.94 L440.5,372.96 L441.0,372.85 L441.5,372.73 L442.0,372.81 L442.5,372.87 L443.0,372.88 L443.5,372.95 L444.0,372.97 L444.5,373.05 L445.0,373.11 L445.5,372.96 L446.0,372.80 L446.5,372.87 L447.0,373.01 L447.5,372.95 L448.0,372.88 L448.5,372.95 L449.0,373.03 L449.5,373.06 L450.0,373.01 L450.5,372.92 L451.0,372.90 L451.5,372.94 L452.0,372.86 L452.5,372.77 L453.0,372.79 L453.5,372.91 L454.0,373.12 L454.5,373.27 L455.0,373.25 L455.5,373.11 L456.0,373.02 L456.5,373.04 L457.0,373.04 L457.5,372.99 L458.0,372.90 L458.5,372.91 L459.0,373.08 L459.5,373.17 L460.0,373.17 L460.5,373.33 L461.0,373.29 L461.5,372.99 L462.0,372.88 L462.5,372.89 L463.0,372.90 L463.5,372.93 L464.0,373.00 L464.5,373.12 L465.0,373.13 L465.5,373.06 L466.0,373.01 L466.5,373.01 L467.0,373.03 L467.5,373.05 L468.0,373.04 L468.5,372.97 L469.0,372.93 L469.5,373.09 L470.0,373.20 L470.5,373.02 L471.0,372.93 L471.5,373.04 L472.0,372.88 L472.5,372.68 L473.0,372.86 L473.5,373.06 L474.0,373.11 L474.5,373.16 L475.0,373.11 L475.5,372.94 L476.0,372.76 L476.5,372.80 L477.0,372.99 L477.5,373.02 L478.0,372.90 L478.5,372.91 L479.0,372.92 L479.5,372.74 L480.0,372.71 L480.5,372.89 L481.0,372.98 L481.5,372.85 L482.0,372.75 L482.5,372.82 L483.0,372.90 L483.5,372.99 L484.0,373.03 L484.5,373.04 L485.0,373.04 L485.5,373.01 L486.0,373.11 L486.5,373.17 L487.0,373.15 L487.5,373.11 L488.0,373.04 L488.5,373.06 L489.0,373.02 L489.5,372.91 L490.0,372.91 L490.5,372.91 L491.0,372.92 L491.5,373.03 L492.0,373.08 L492.5,373.02 L493.0,372.92 L493.5,372.87 L494.0,372.99 L494.5,373.15 L495.0,373.15 L495.5,373.05 L496.0,372.92 L496.5,372.87 L497.0,372.88 L497.5,372.81 L498.0,372.86 L498.5,372.98 L499.0,373.04 L499.5,373.05 L500.0,372.97 L500.5,372.91 L501.0,372.91 L501.5,372.91 L502.0,372.91 L502.5,372.94 L503.0,372.96 L503.5,372.97 L504.0,373.09 L504.5,373.14 L505.0,373.05 L505.5,373.06 L506.0,373.04 L506.5,373.10 L507.0,373.10 L507.5,372.86 L508.0,372.74 L508.5,372.78 L509.0,372.87 L509.5,373.14 L510.0,373.36 L510.5,373.30 L511.0,373.25 L511.5,373.18 L512.0,373.04 L512.5,373.10 L513.0,373.19 L513.5,373.10 L514.0,373.05 L514.5,372.98 L515.0,372.84 L515.5,372.86 L516.0,373.02 L516.5,373.02 L517.0,372.92 L517.5,372.92 L518.0,372.96 L518.5,373.01 L519.0,373.06 L519.5,373.05 L520.0,372.95 L520.5,372.82 L521.0,372.84 L521.5,372.90 L522.0,372.87 L522.5,372.91 L523.0,372.91 L523.5,372.92 L524.0,372.99 L524.5,372.92 L525.0,372.85 L525.5,372.89 L526.0,372.97" fill="none" stroke="#939b12" stroke-width="2.1" stroke-linejoin="round"/>
<path d="M98.7,403V377.4 M119.4,403V392.9 M170.7,403V382.9 M184.9,403V384.7 M212.0,403V376.0 M224.2,403V394.2 M236.0,403V379.8 M247.6,403V394.7 M269.5,403V388.0 M280.0,403V395.2 M309.7,403V384.5 M319.2,403V394.2 M346.3,403V393.8 M354.9,403V393.8 M372.1,403V388.9 M380.4,403V390.5 M389.0,403V381.3 M412.9,403V392.5 M420.6,403V391.4 M443.7,403V394.7 M451.3,403V395.1 M473.1,403V394.6 M480.4,403V391.8 M495.0,403V391.6 M501.7,403V393.7 M509.0,403V393.1" stroke="#000" stroke-width="1.8" fill="none"/>
<rect x="46" y="15" width="480" height="388" fill="none" stroke="#000" stroke-width="2"/>
<path d="M46.0,403V411 M126.0,403V411 M206.0,403V411 M286.0,403V411 M366.0,403V411 M446.0,403V411 M526.0,403V411 M86.0,403V407 M166.0,403V407 M246.0,403V407 M326.0,403V407 M406.0,403V407 M486.0,403V407" stroke="#000" stroke-width="2" fill="none"/>
<text x="32.64" y="436.25" font-size="26.10" font-weight="bold" fill="#000" textLength="26.75" lengthAdjust="spacingAndGlyphs">10</text>
<text x="112.42" y="436.10" font-size="26.10" font-weight="bold" fill="#000" textLength="26.63" lengthAdjust="spacingAndGlyphs">20</text>
<text x="192.32" y="436.25" font-size="26.10" font-weight="bold" fill="#000" textLength="26.61" lengthAdjust="spacingAndGlyphs">30</text>
<text x="273.30" y="436.25" font-size="26.10" font-weight="bold" fill="#000" textLength="25.61" lengthAdjust="spacingAndGlyphs">40</text>
<text x="352.91" y="436.25" font-size="26.10" font-weight="bold" fill="#000" textLength="25.98" lengthAdjust="spacingAndGlyphs">50</text>
<text x="433.35" y="436.33" font-size="26.10" font-weight="bold" fill="#000" textLength="26.21" lengthAdjust="spacingAndGlyphs">60</text>
<text x="512.13" y="436.25" font-size="26.10" font-weight="bold" fill="#000" textLength="26.88" lengthAdjust="spacingAndGlyphs">70</text>
<text x="228.20" y="457.62" font-size="24.70" font-weight="bold" fill="#000" textLength="30.03" lengthAdjust="spacingAndGlyphs">2θ</text>
<text x="263.18" y="458.59" font-size="24.70" font-weight="bold" fill="#000" textLength="96.17" lengthAdjust="spacingAndGlyphs">(degree)</text>
<text transform="translate(31.62,283.98) rotate(-90)" x="0" y="0" font-size="27.30" font-weight="bold" fill="#000" textLength="178.21" lengthAdjust="spacingAndGlyphs">Intensity (a. u.)</text>
<text transform="translate(104.11,78.61) rotate(-90)" x="0" y="0" font-size="12.00" font-weight="bold" fill="#000" textLength="28.15" lengthAdjust="spacingAndGlyphs">(211)</text>
<text transform="translate(125.03,96.91) rotate(-90)" x="0" y="0" font-size="12.00" font-weight="bold" fill="#000" textLength="28.23" lengthAdjust="spacingAndGlyphs">(220)</text>
<text transform="translate(174.22,86.91) rotate(-90)" x="0" y="0" font-size="12.00" font-weight="bold" fill="#000" textLength="28.23" lengthAdjust="spacingAndGlyphs">(321)</text>
<text transform="translate(189.19,88.22) rotate(-90)" x="0" y="0" font-size="12.00" font-weight="bold" fill="#000" textLength="27.78" lengthAdjust="spacingAndGlyphs">(400)</text>
<text transform="translate(217.07,80.13) rotate(-90)" x="0" y="0" font-size="12.00" font-weight="bold" fill="#000" textLength="27.27" lengthAdjust="spacingAndGlyphs">(420)</text>
<text transform="translate(238.55,78.17) rotate(-90)" x="0" y="0" font-size="12.00" font-weight="bold" fill="#000" textLength="26.99" lengthAdjust="spacingAndGlyphs">(422)</text>
<text transform="translate(272.32,99.17) rotate(-90)" x="0" y="0" font-size="12.00" font-weight="bold" fill="#000" textLength="29.03" lengthAdjust="spacingAndGlyphs">(521)</text>
<text transform="translate(312.70,99.87) rotate(-90)" x="0" y="0" font-size="12.00" font-weight="bold" fill="#000" textLength="28.08" lengthAdjust="spacingAndGlyphs">(611)</text>
<text transform="translate(368.34,95.44) rotate(-90)" x="0" y="0" font-size="12.00" font-weight="bold" fill="#000" textLength="27.57" lengthAdjust="spacingAndGlyphs">(640)</text>
<text transform="translate(380.97,110.07) rotate(-90)" x="0" y="0" font-size="12.00" font-weight="bold" fill="#000" textLength="28.34" lengthAdjust="spacingAndGlyphs">(633)</text>
<text transform="translate(392.25,92.72) rotate(-90)" x="0" y="0" font-size="12.00" font-weight="bold" fill="#000" textLength="27.42" lengthAdjust="spacingAndGlyphs">(642)</text>
<text transform="translate(412.92,103.05) rotate(-90)" x="0" y="0" font-size="12.00" font-weight="bold" fill="#000" textLength="26.82" lengthAdjust="spacingAndGlyphs">(732)</text>
<text transform="translate(425.57,98.98) rotate(-90)" x="0" y="0" font-size="12.00" font-weight="bold" fill="#000" textLength="28.16" lengthAdjust="spacingAndGlyphs">(800)</text>
<text x="444.19" y="101.80" font-size="15.80" font-weight="normal" fill="#1a1a1a" textLength="53.00" lengthAdjust="spacingAndGlyphs">LLZTO</text>
<text x="426.77" y="153.60" font-size="15.80" font-weight="normal" fill="#1a1a1a" textLength="71.35" lengthAdjust="spacingAndGlyphs">EO:Li=8:1</text>
<text x="427.48" y="191.50" font-size="15.80" font-weight="normal" fill="#1a1a1a" textLength="71.58" lengthAdjust="spacingAndGlyphs">EO:Li=5:1</text>
<text x="427.77" y="229.70" font-size="15.80" font-weight="normal" fill="#1a1a1a" textLength="71.35" lengthAdjust="spacingAndGlyphs">EO:Li=2:1</text>
<text x="429.57" y="274.80" font-size="15.80" font-weight="normal" fill="#1a1a1a" textLength="82.43" lengthAdjust="spacingAndGlyphs">EO:Li=1.5:1</text>
<text x="430.77" y="313.30" font-size="15.80" font-weight="normal" fill="#1a1a1a" textLength="71.35" lengthAdjust="spacingAndGlyphs">EO:Li=1:1</text>
<text x="429.86" y="353.70" font-size="15.80" font-weight="normal" fill="#1a1a1a" textLength="89.39" lengthAdjust="spacingAndGlyphs">PEO+LiTFSI</text>
<text x="416.32" y="387.65" font-size="13.80" font-weight="normal" fill="#1a1a1a" textLength="79.33" lengthAdjust="spacingAndGlyphs">PDF 45-0109</text>
<text x="452.86" y="33.77" font-size="15.80" font-weight="normal" fill="#1a1a1a" textLength="49.24" lengthAdjust="spacingAndGlyphs">Li<tspan font-size="11.2" dy="4.9">2</tspan><tspan dy="-4.9">CO</tspan><tspan font-size="11.2" dy="4.9">3</tspan></text>
<path transform="translate(216.8,151.9)" d="M4,9 C2.7,7.1 0.1,5.3 0.1,2.6 C0.1,1.0 1.1,0 2.2,0 C3.1,0 3.7,0.6 4,1.4 C4.3,0.6 4.9,0 5.8,0 C6.9,0 7.9,1.0 7.9,2.6 C7.9,5.3 5.3,7.1 4,9 Z" fill="#000"/>
<path transform="translate(216.8,187.4)" d="M4,9 C2.7,7.1 0.1,5.3 0.1,2.6 C0.1,1.0 1.1,0 2.2,0 C3.1,0 3.7,0.6 4,1.4 C4.3,0.6 4.9,0 5.8,0 C6.9,0 7.9,1.0 7.9,2.6 C7.9,5.3 5.3,7.1 4,9 Z" fill="#000"/>
<path transform="translate(216.8,223.0)" d="M4,9 C2.7,7.1 0.1,5.3 0.1,2.6 C0.1,1.0 1.1,0 2.2,0 C3.1,0 3.7,0.6 4,1.4 C4.3,0.6 4.9,0 5.8,0 C6.9,0 7.9,1.0 7.9,2.6 C7.9,5.3 5.3,7.1 4,9 Z" fill="#000"/>
<path transform="translate(216.8,268.9)" d="M4,9 C2.7,7.1 0.1,5.3 0.1,2.6 C0.1,1.0 1.1,0 2.2,0 C3.1,0 3.7,0.6 4,1.4 C4.3,0.6 4.9,0 5.8,0 C6.9,0 7.9,1.0 7.9,2.6 C7.9,5.3 5.3,7.1 4,9 Z" fill="#000"/>
<path transform="translate(216.8,308.6)" d="M4,9 C2.7,7.1 0.1,5.3 0.1,2.6 C0.1,1.0 1.1,0 2.2,0 C3.1,0 3.7,0.6 4,1.4 C4.3,0.6 4.9,0 5.8,0 C6.9,0 7.9,1.0 7.9,2.6 C7.9,5.3 5.3,7.1 4,9 Z" fill="#000"/>
<path transform="translate(410.0,24.6) scale(1.13,1.11)" d="M4,9 C2.7,7.1 0.1,5.3 0.1,2.6 C0.1,1.0 1.1,0 2.2,0 C3.1,0 3.7,0.6 4,1.4 C4.3,0.6 4.9,0 5.8,0 C6.9,0 7.9,1.0 7.9,2.6 C7.9,5.3 5.3,7.1 4,9 Z" fill="#000"/>
<path d="M421,30H453.5" stroke="#3a3a3a" stroke-width="1.3"/>
</svg>
</body></html>
